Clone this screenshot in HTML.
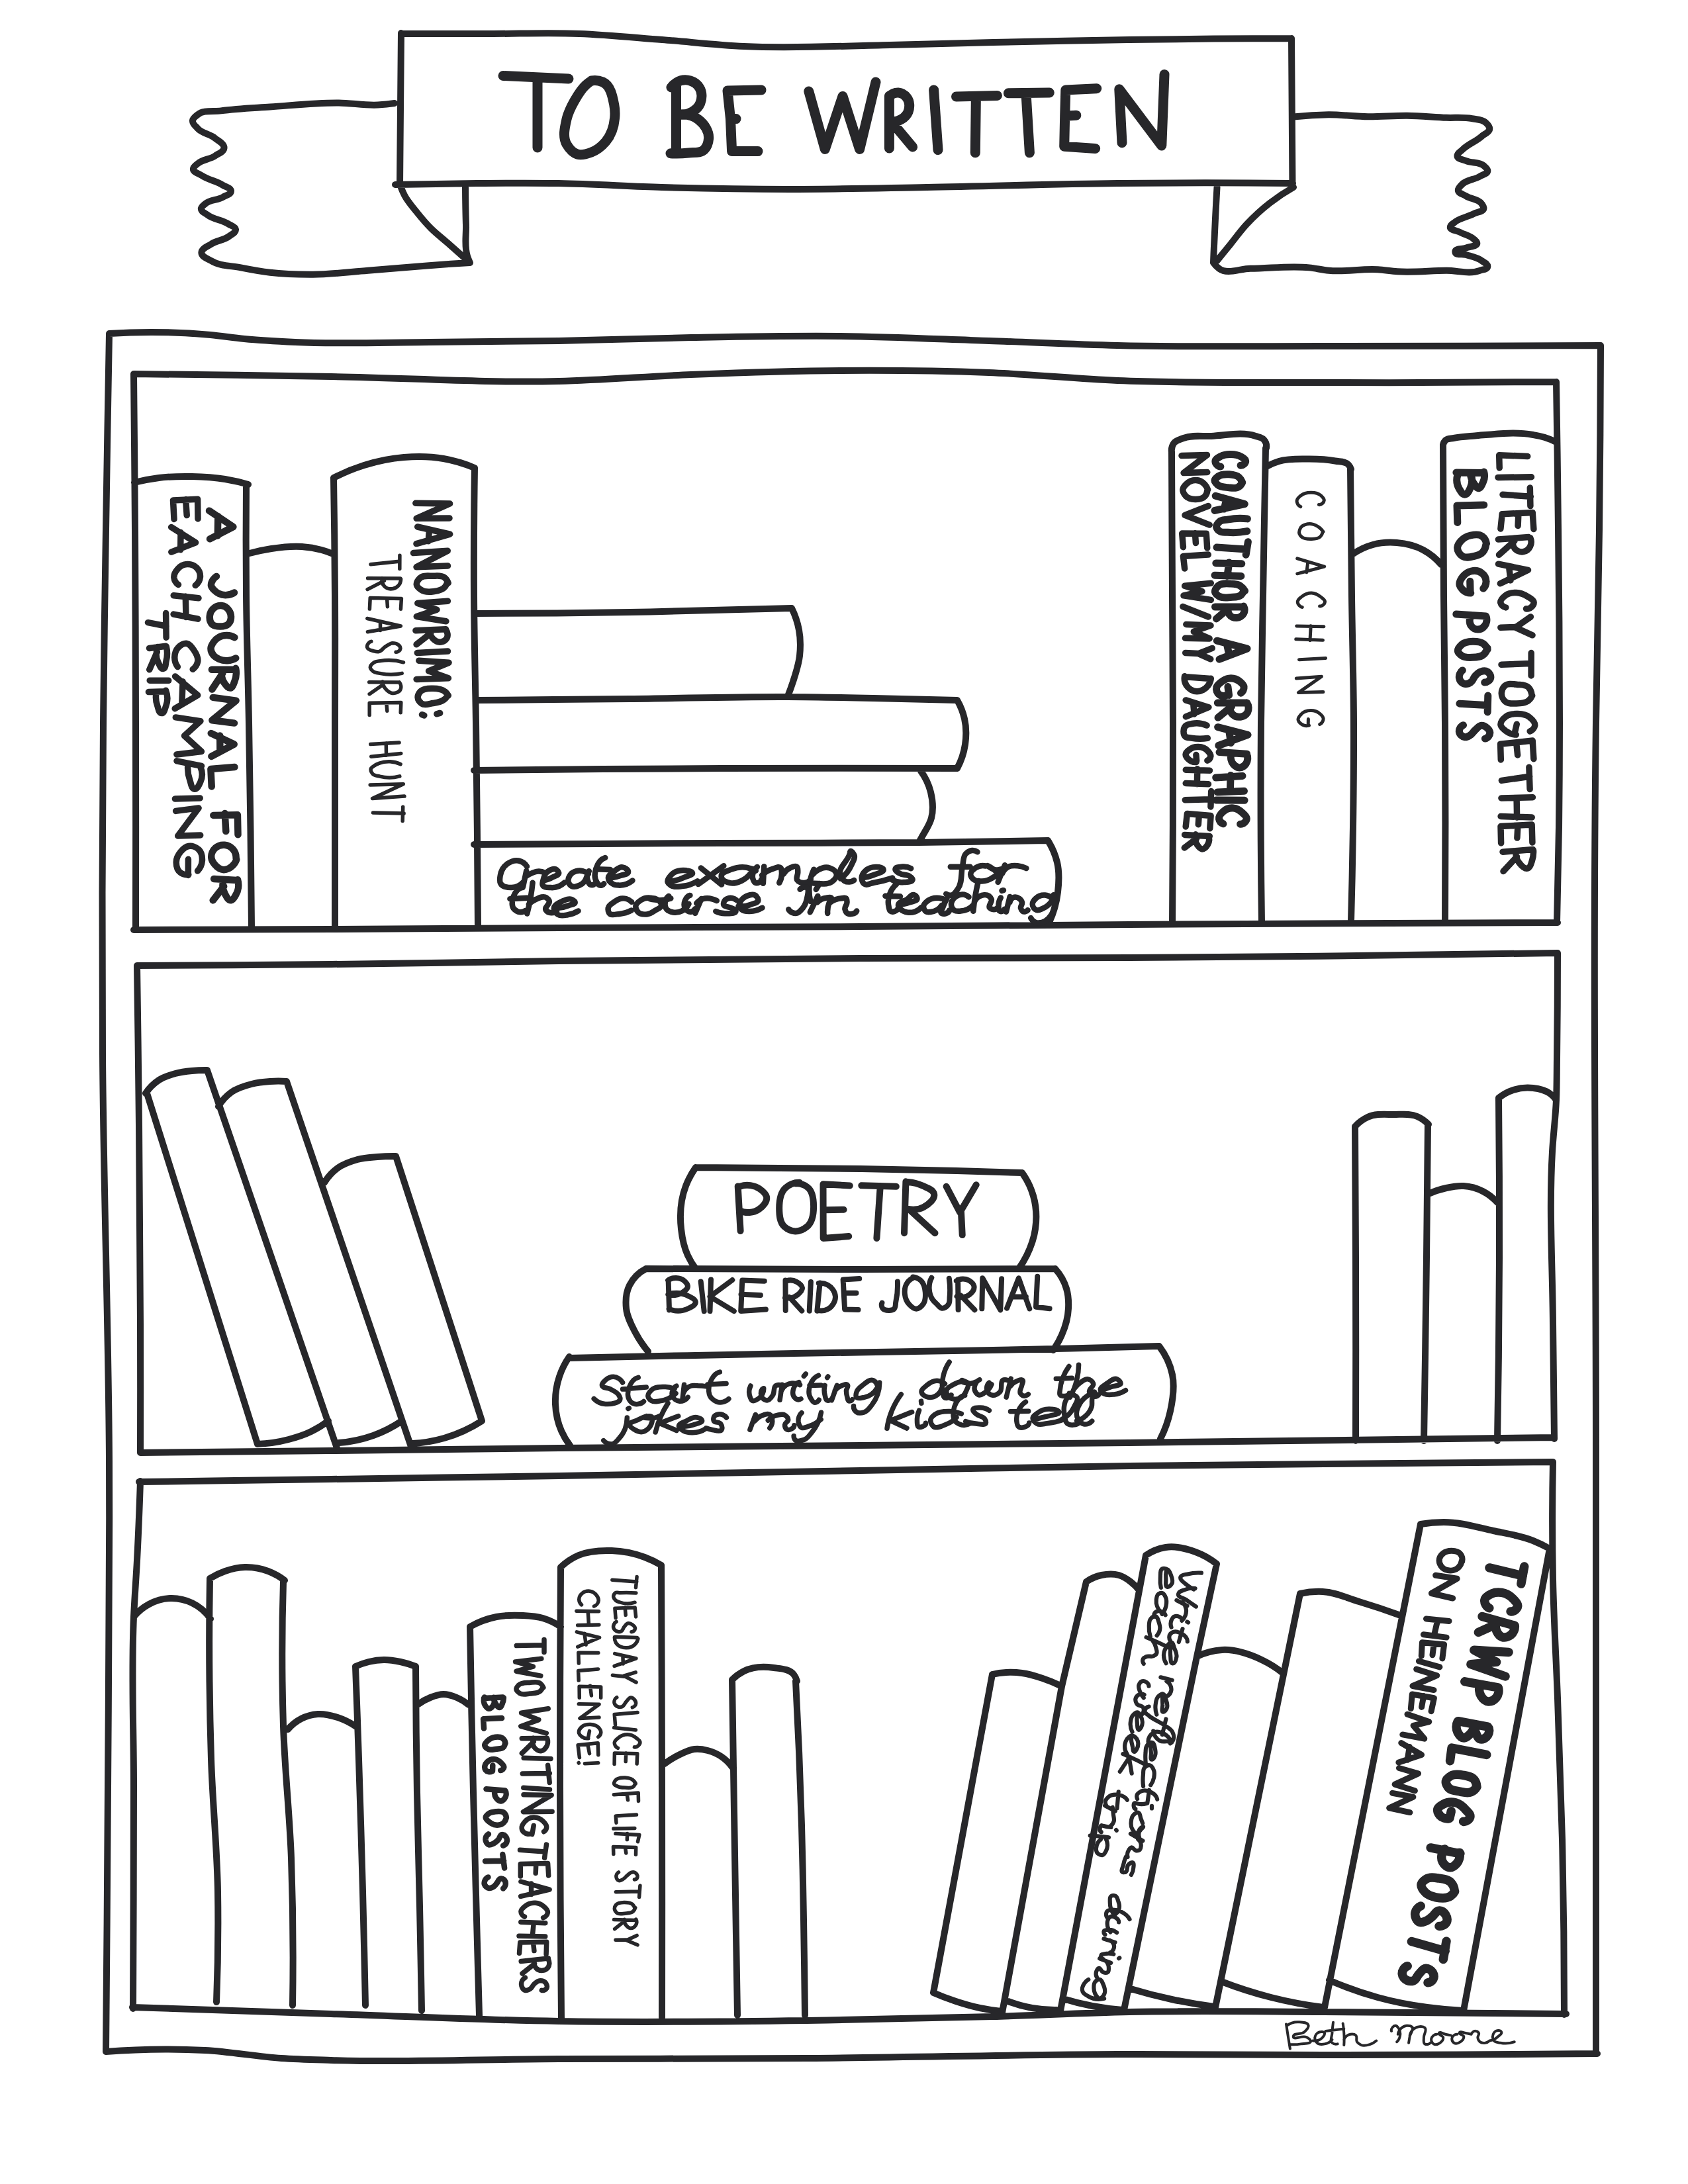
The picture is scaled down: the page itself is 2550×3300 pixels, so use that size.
<!DOCTYPE html>
<html><head><meta charset="utf-8"><title>To Be Written</title>
<style>
html,body{margin:0;padding:0;background:#fff;}
body{width:2550px;height:3300px;overflow:hidden;font-family:"Liberation Sans",sans-serif;}
svg{display:block;}
</style></head><body>
<svg width="2550" height="3300" viewBox="0 0 2550 3300">
<rect width="2550" height="3300" fill="#fff"/>
<g fill="none" stroke="#27272a" stroke-width="10" stroke-linecap="round" stroke-linejoin="round">
<path d="M606 51C650.7 51 695.3 51 740 51C785 51 830 49.3 875 51C916.7 52.6 958.3 56.8 1000 60C1041.3 63.2 1082.6 68 1124 70C1197.3 73.5 1270.7 69.4 1344 68C1396 67 1448 65.2 1500 64C1568.7 62.4 1637.3 61 1706 60C1787.7 58.8 1869.3 58.2 1951 58M606 50L604 279M1951 58L1952.5 283M597 279C638 278 679 277.3 720 277C761.3 276.7 802.7 276.3 844 277C896 277.9 948 281.5 1000 283C1064.6 284.8 1129.3 285.9 1194 286C1262.7 286.1 1331.3 284.2 1400 283C1496 281.4 1592 278 1688 277C1776.3 276.1 1864.7 276.1 1953 277M605 281C606.7 285.8 608.7 290.5 611 295C615.9 304.5 623.3 312.6 630 321C636.6 329.3 643.5 337.5 651 345C658.5 352.5 667 359 675 366C686.7 376.3 698.4 386.6 710 397M703 283C703.1 302 703.4 321 704 340C704.5 355.7 701.1 372.1 706 387C707.1 390.4 708.5 393.8 710 397M596 156C587.7 157.2 579.4 158 571 158.5C551.3 159.6 531.7 155.7 512 155.5C477.3 155.1 442.6 159.1 408 161.5C383.3 163.2 358.5 164 334 167.4C322.1 169 307.7 165.6 298.5 173.3C295.6 175.8 291.6 178.2 291 182C290.3 186.7 295.4 190.4 298.5 194C305.2 201.7 317.3 202.4 325 209C330.1 213.3 339.2 217.1 338.5 223.7C337.8 229.6 329.9 232.1 325 235.5C317 241 305.6 240.8 298.5 247.4C296.1 249.6 292.5 251.6 292 254.8C291.1 260.1 300 261.9 304.4 265C314.2 271.8 327 273.5 337 280C341.2 282.7 349 283.8 349 288.8C349 293.8 341.3 295.1 337 297.7C328.8 302.7 317 301.4 310 308C307.6 310.2 304 312.3 303.8 315.5C303.5 319.8 309.7 321.7 313 324.4C322.4 331.9 336 332.3 346 339C349.5 341.3 355.4 342.5 356 346.6C356.7 351.4 349.7 354 346 357C338.3 363.2 327.1 363.2 319 368.8C313.6 372.5 304.1 375.4 304.4 382C304.7 388.3 313.6 390.7 319 394C332 402.1 348.7 401.4 363.7 404.4C378.4 407.3 393.1 410.1 408 411.8C429.5 414.3 451.3 414.8 473 414.7C500.7 414.5 528.3 410.9 556 408.8C585.7 406.5 615.3 403.6 645 401.4C666.7 399.8 688.3 398.3 710 397M1954 283C1941.6 290 1929.7 297.9 1918.5 306.6C1905.8 316.4 1893.9 327.4 1883 339.2C1874.4 348.5 1867 358.9 1859 368.8C1852.2 377.2 1845.3 385.6 1838.5 394M1838.5 283C1837.6 298.7 1836.8 314.3 1836 330C1835.3 344 1834.6 358 1834 372C1833.6 380.3 1833.3 388.7 1833 397M1957 176.3C1973.6 174.5 1990.3 173.5 2007 173.3C2026.9 173.1 2046.7 176.1 2066.6 176.3C2086.3 176.5 2106.1 174.6 2125.8 174.8C2145.6 175 2165.3 177 2185 177.8C2197.9 178.3 2211 176.7 2223.6 179.2C2230.6 180.6 2239.1 180.3 2244.3 185.2C2246.9 187.6 2249.9 190.5 2250.2 194C2250.7 199.6 2242.6 202.2 2238.4 205.9C2229.5 214 2217.1 217.9 2208.8 226.6C2206.1 229.4 2201.3 231.6 2201.4 235.5C2201.5 240.6 2210.1 240.9 2214.7 243C2223.1 246.8 2234.6 244.1 2241.4 250.3C2243.7 252.4 2247 254.6 2247.3 257.7C2247.8 262.6 2239.6 263.9 2235.4 266.6C2227.2 271.8 2215.4 271.3 2208.8 278.5C2206.4 281.1 2202.7 283.8 2202.8 287.4C2202.9 292.3 2210.6 293.5 2214.7 296.2C2222.1 301 2233.5 300.7 2238.4 308C2239.6 309.9 2241.2 311.8 2241.4 314C2242 319.8 2231.6 320.1 2226.5 322.9C2217 328.1 2205.2 329.2 2197 336.2C2194.9 338 2191.8 339.5 2191 342.2C2189.4 347.7 2200.8 348.2 2205.8 351C2212.6 354.7 2220.9 356.1 2226.5 361.4C2228.1 362.9 2230.2 364.3 2231 366.4C2233.1 372.1 2220.3 372.3 2214.7 374.7C2209.4 377 2197.9 374.9 2198.4 380.7C2198.9 386.3 2209.3 383.3 2214.7 385C2222.8 387.5 2231.7 388.9 2238.4 394C2241.7 396.5 2247.8 398.7 2247.3 402.9C2246.7 407.3 2239.5 407.2 2235.4 408.8C2219.7 414.8 2201.8 408.7 2185 408.8C2160.3 409 2135.6 411.9 2111 410.3C2101.1 409.6 2091.3 408 2081.4 407.3C2056.7 405.7 2031.9 411.3 2007.3 408.8C1997.4 407.8 1987.6 405.5 1977.7 404.4C1948.3 401.3 1918.5 405.6 1888.9 405.8C1873.1 405.9 1854.1 415.3 1841.5 405.8C1838.2 403.3 1835.3 400.3 1833 397M165 504C215.9 500.7 267.2 501.4 318 506C335 507.6 352 510.4 369 512C394.6 514.5 420.3 515.8 446 517C513.6 520.2 581.3 517.4 649 517C714 516.7 779 516.1 844 515C910.7 513.8 977.3 511.2 1044 510C1119 508.7 1194 507.2 1269 508C1344 508.8 1419 512.5 1494 515C1558.7 517.2 1623.3 520.5 1688 522C1792 524.4 1896 522.9 2000 523C2139.3 523.1 2278.7 522.8 2418 522M165 504C163.2 602.7 161.5 701.3 160 800C158.5 897.3 156.9 994.7 156 1092C154.4 1258.7 154 1425.3 155 1592C156.3 1797.4 164 2002.6 165 2208C165.8 2372 164 2536 163 2700C162.2 2833.3 161.2 2966.7 160 3100M2418 522C2417.8 614.7 2417.1 707.3 2416 800C2414.8 897.3 2412.3 994.7 2411 1092C2406.1 1456 2411 1820 2411 2184C2411 2490.3 2411 2796.7 2411 3103M160 3100C209.8 3096 260.1 3095.4 310 3098C348.5 3100 386.5 3107.5 425 3110C450 3111.6 475 3112.2 500 3113C614.6 3116.6 729.3 3111.5 844 3111C969 3110.5 1094 3110.9 1219 3110C1375.3 3108.9 1531.7 3104.5 1688 3104C1792 3103.7 1896 3105 2000 3105C2137.7 3105 2275.3 3104.3 2413 3103M202 565C301.3 566 400.7 567.3 500 569C614.7 570.9 729.3 578.8 844 576C910.7 574.4 977.3 568.6 1044 566C1119 563.1 1194 560.5 1269 560C1344 559.5 1419.1 560.1 1494 563C1558.7 565.5 1623.3 572.3 1688 575C1791.9 579.3 1896 577.6 2000 578C2117 578.4 2234 578.1 2351 577M202 565C202.8 643.3 203.5 721.7 204 800C204.6 897.3 204.8 994.7 205 1092C205.2 1196 205.2 1300 205 1404M2351 577C2352.2 651.3 2353.2 725.7 2354 800C2355 897.3 2356.2 994.7 2356 1092C2355.9 1144.7 2355.7 1197.3 2355 1250C2354.3 1298 2353.3 1346 2352 1394M202 1405C301.3 1404.8 400.7 1404.4 500 1404C614.7 1403.5 729.3 1402.6 844 1402C996 1401.2 1148 1400.9 1300 1400C1435.3 1399.2 1570.7 1397.9 1706 1397C1921.7 1395.6 2137.3 1394.6 2353 1394M207 1459C304.7 1458.7 402.3 1458 500 1457C614.7 1455.8 729.3 1453.4 844 1452C996 1450.2 1148 1448.8 1300 1448C1435.3 1447.3 1570.7 1447.8 1706 1447C1921.7 1445.8 2137.3 1443.4 2353 1440M207 1459C208.2 1539.3 209.2 1619.7 210 1700C211 1800 211.7 1900 212 2000C212.2 2065 212.2 2130 212 2195M2353 1440C2353 1493.3 2352.7 1546.7 2352 1600C2351.7 1620.7 2351.9 1641.3 2351 1662C2349.9 1688.1 2346.5 1714 2345 1740C2340 1826.5 2345.3 1913.3 2346 2000C2346.5 2058 2347.2 2116 2348 2174M212 2195C308 2194.1 404 2193.1 500 2192C614.7 2190.7 729.3 2189.2 844 2188C996 2186.4 1148 2185.4 1300 2184C1435.3 2182.7 1570.7 2181.5 1706 2180C1920 2177.7 2134 2175 2348 2172M210 2239C306.7 2237.7 403.3 2236.4 500 2235C614.7 2233.4 729.3 2231.8 844 2230C996 2227.6 1148 2224.6 1300 2222C1435.3 2219.6 1570.7 2216.8 1706 2215C1804 2213.7 1902 2212.9 2000 2212C2115.3 2210.9 2230.7 2209.9 2346 2209M212 2238C210.7 2278 209.1 2318 207 2358C205.5 2386.3 203.3 2414.6 202 2443C198.2 2528.6 202.1 2614.3 202 2700C201.9 2811.7 201.5 2923.3 201 3035M2346 2209C2344.8 2268.3 2344.8 2327.7 2346 2387C2347.2 2446.7 2350.8 2506.3 2353 2566C2355.6 2637.3 2358.3 2708.6 2360 2780C2362 2868 2363 2956 2363 3044M200 3033C300 3036.4 400 3039.7 500 3043C614.7 3046.7 729.3 3052.2 844 3054C969 3055.9 1094 3054.7 1219 3053C1312.7 3051.7 1406.4 3049.7 1500 3047C1568.7 3045 1637.3 3041.4 1706 3040C1804 3038 1902 3039.6 2000 3040C2122 3040.4 2244 3041.4 2366 3043M203 729C215.2 725.9 227.5 723.6 240 722C256.6 719.9 273.3 719.7 290 720C306.7 720.3 323.5 721.3 340 724C351.8 726 363.5 728.6 375 732M372 732C371.5 788 371.5 844 372 900C372.6 964 374.9 1028 376 1092C377.8 1194.7 379.2 1297.3 380 1400M377 836C387.8 833 398.9 830.7 410 829C425.2 826.7 440.7 824.9 456 826C466.1 826.7 476.2 828.3 486 831C491.8 832.6 497.5 834.6 503 837M504 722C518.7 714.4 534.2 708 550 703C569.5 696.9 589.7 692.6 610 691C629.9 689.4 650.3 689.5 670 693C686.1 695.8 702 700.6 717 707M504 722C505 781.3 505.7 840.7 506 900C506.4 964 506 1028 506 1092C506 1194.7 506 1297.3 506 1400M717 707C716 771.3 715.7 835.7 716 900C716.3 964 718.1 1028 719 1092C720.4 1194.7 721.4 1297.3 722 1400M719 927C796.3 926.9 873.7 926.3 951 925C1032.7 923.7 1114.4 921.7 1196 919M1196 919C1201.2 929.4 1204.9 940.6 1207 952C1209.4 964.8 1209.4 978.1 1208 991C1206.5 1004.3 1202.1 1017.2 1198 1030C1195.6 1037.4 1192.9 1044.8 1190 1052M719 1058C796.3 1057.5 873.7 1056.8 951 1056C1030.7 1055.2 1110.3 1052.6 1190 1053C1233.3 1053.2 1276.7 1054.1 1320 1055C1362 1055.8 1404 1056.8 1446 1058M1446 1058C1451 1066.7 1454.8 1076.2 1457 1086C1459.9 1098.7 1459.9 1112.1 1458 1125C1456.1 1137.5 1452 1149.9 1446 1161M716 1164C840.7 1162.5 965.3 1161.5 1090 1161C1208.7 1160.5 1327.3 1160.5 1446 1161M1391 1165C1398 1174.5 1403.2 1185.6 1406 1197C1409.1 1209.6 1410.2 1223.4 1407 1236C1404.5 1246.1 1398 1254.8 1393 1264C1391.4 1267 1389.7 1270 1388 1273M716 1276C840.7 1275.2 965.3 1274.5 1090 1274C1189.3 1273.6 1288.7 1274.1 1388 1273C1453 1272.3 1518 1271.3 1583 1270M1583 1270C1589.4 1280.1 1594.2 1291.4 1597 1303C1600.5 1317.6 1599.8 1333.1 1598 1348C1596.1 1363.8 1591.6 1379.5 1585 1394M1770 683C1769.4 678.6 1770.5 673.7 1773 670C1776.2 665.3 1782.7 664.1 1788 662C1801.1 656.9 1816 659.6 1830 659C1852.3 658 1875.9 651.7 1897 659C1901.1 660.4 1906.1 660.8 1909 664C1912.1 667.3 1913.7 672.5 1913 677M1770 683C1770.3 755.3 1770.6 827.7 1771 900C1771.3 964 1771.9 1028 1772 1092C1772.2 1193.3 1771.9 1294.7 1771 1396M1912 677C1910.6 751.3 1909.2 825.7 1908 900C1906.9 964 1905.5 1028 1905 1092C1904.2 1192.7 1904.5 1293.3 1906 1394M1915 704C1920.4 701.2 1926.1 698.8 1932 697C1945.7 692.8 1960.6 693.6 1975 693.5C1989 693.4 2003.3 693.7 2017 696.5C2023.8 697.9 2032.4 696.9 2037 702C2038.8 704 2040.2 706.4 2041 709M2040 708C2040.5 772 2041.2 836 2042 900C2042.8 964 2044.8 1028 2045 1092C2045.2 1144.7 2044.7 1197.3 2044 1250C2043.3 1297.3 2042.3 1344.7 2041 1392M2044 837C2053.1 830.7 2063.4 825.9 2074 823C2085.6 819.8 2098 819 2110 820C2123.8 821.1 2137.8 824.4 2150 831C2160.2 836.5 2169.5 844.1 2177 853M2180 672C2180.5 669.4 2182 666.8 2184 665C2187.1 662.2 2192 662.8 2196 662C2206.5 659.8 2217.3 659.4 2228 658.5C2257.2 656 2287.1 651.9 2316 657C2321.7 658 2327.5 659 2333 660.7C2339.2 662.6 2345.2 665 2351 668M2180 672C2180.1 748 2180.4 824 2181 900C2181.5 964 2182.6 1028 2183 1092C2183.6 1192.7 2183.6 1293.3 2183 1394M220 1652C225.2 1644.1 232.1 1637.2 240 1632C247.5 1627.1 256.3 1624.4 265 1622C273.1 1619.8 281.6 1618.8 290 1618C297.6 1617.2 305.3 1616.9 313 1617M222 1652L389 2182M313 1617L509 2188M389 2182C404.8 2181.4 420.7 2179 436 2175C447.6 2171.9 459.2 2168.3 470 2163C479.1 2158.5 487.9 2153.2 496 2147M330 1672C334.9 1663.4 341.9 1655.7 350 1650C358.8 1643.8 369.6 1640.7 380 1638C389.1 1635.6 398.6 1634.6 408 1634C416.3 1633.4 424.7 1633.4 433 1634M433 1634L621 2186M512 2180C529.7 2178.8 547.3 2175 564 2169C579.1 2163.5 593.7 2156.1 607 2147M490 1787C495.1 1778.5 502 1770.8 510 1765C518.8 1758.6 529.5 1754.9 540 1752C549.7 1749.4 559.9 1748.8 570 1748C579.3 1747.2 588.7 1746.9 598 1747M598 1747L728 2147M623 2181C639.2 2180.2 655.4 2177.5 671 2173C691.1 2167.2 710.5 2158.4 728 2147M1051 1764C1134 1764 1217 1764.6 1300 1766C1381.3 1767.3 1462.7 1769.3 1544 1772M1051 1764C1044.9 1772.6 1039.8 1782.1 1036 1792C1028.2 1812.3 1026.6 1835.3 1029 1857C1030.5 1870.7 1033.2 1884.5 1039 1897C1042.3 1904.1 1046.3 1910.8 1051 1917M1544 1772C1551.6 1782.5 1557.4 1794.5 1561 1807C1565.6 1823 1566.4 1840.5 1564 1857C1562 1870.9 1557.2 1884.4 1551 1897C1547.5 1904 1543.5 1910.7 1539 1917M976 1917C1084 1917.7 1192 1918 1300 1918C1398 1918 1496 1917.6 1594 1917M976 1917C965.5 1922.3 956.3 1931.5 951 1942C945.7 1952.5 944.8 1965.3 946 1977C947.2 1989.4 953.3 2000.9 959 2012C964.5 2022.7 971.2 2032.8 979 2042M1594 1917C1601.7 1925.5 1607.7 1936 1611 1947C1613.9 1956.6 1614.5 1967 1614 1977C1613.4 1990.7 1609.5 2004.4 1604 2017C1600.5 2025.1 1596.1 2032.8 1591 2040M859 2052C972.7 2049.4 1086.3 2047.1 1200 2045C1300 2043.2 1400 2042.1 1500 2040C1583.7 2038.3 1667.3 2036.3 1751 2034M860 2050C853.6 2059.2 848.5 2069.4 845 2080C840.5 2093.4 838.4 2107.9 839 2122C839.6 2135.7 842.5 2149.5 848 2162C851.4 2169.8 855.8 2177.2 861 2184M1751 2034C1760.7 2046.5 1767.7 2061.5 1771 2077C1774.8 2095 1771.9 2114.1 1768 2132C1764.8 2146.5 1759.8 2160.8 1753 2174M2047 1702C2052.3 1696.2 2058.9 1691.3 2066 1688C2078.1 1682.3 2092.6 1684 2106 1684C2117.7 1684 2130.3 1682.2 2141 1687C2147.3 1689.8 2153.2 1694 2158 1699M2047 1702C2047.5 1768 2047.8 1834 2048 1900C2048.3 1992.3 2048.3 2084.7 2048 2177M2157 1699C2156.5 1766 2155.8 1833 2155 1900C2153.9 1992.3 2152.6 2084.7 2151 2177M2158 1804C2166.6 1800 2175.7 1797 2185 1795C2193.5 1793.1 2202.3 1791.4 2211 1792C2221 1792.6 2231.1 1795.4 2240 1800C2248.3 1804.2 2255.8 1810.1 2262 1817M2264 1659C2270.5 1653.7 2278.1 1649.6 2286 1647C2295.5 1643.9 2306 1642.8 2316 1644C2324.7 1645 2333.9 1646.9 2341 1652C2344.8 1654.7 2348.3 1658.2 2351 1662M2264 1659C2264.9 1739.3 2265.2 1819.7 2265 1900C2264.7 1992.3 2263.7 2084.7 2262 2177M202 2443C208.3 2435.3 216.2 2428.7 225 2424C234.8 2418.7 245.9 2415.4 257 2415C268.2 2414.6 279.9 2417.1 290 2422C301.1 2427.3 311 2435.9 318 2446M317 2385C324.2 2380.5 332 2376.8 340 2374C349.6 2370.7 359.8 2368.3 370 2368C381.8 2367.7 393.9 2369.8 405 2374C413.9 2377.4 422.5 2382.1 430 2388M317 2385C315.4 2476 316.1 2567 319 2658C321.1 2724.7 327.9 2791.3 329 2858C329.9 2913.7 329.2 2969.4 327 3025M428 2390C425.7 2462.6 425.7 2535.4 428 2608C430.1 2674.8 437.6 2741.3 440 2808C442.6 2882 443.3 2956 442 3030M435 2613C440.5 2606.5 447.4 2600.9 455 2597C462.7 2593 471.4 2590.6 480 2590C490.1 2589.3 500.4 2591.9 510 2595C519.9 2598.2 529.5 2603 538 2609M537 2518C543.4 2515 550.1 2512.7 557 2511C564.5 2509.2 572.3 2508.1 580 2508C588.4 2507.9 596.8 2509.3 605 2511C612.8 2512.7 620.6 2515 628 2518M537 2518C538.8 2564.7 540.4 2611.3 542 2658C544.2 2724.7 546.2 2791.3 548 2858C549.5 2915.3 550.8 2972.7 552 3030M628 2518C628.2 2581.3 628.9 2644.7 630 2708C631 2765.3 632.8 2822.7 634 2880C635.1 2932.7 636.1 2985.3 637 3038M632 2575C637.5 2570.9 643.6 2567.5 650 2565C656.4 2562.5 663.1 2560 670 2560C676.9 2560 683.7 2562.4 690 2565C696.5 2567.7 702.6 2571.5 708 2576M710 2458C722.4 2450.9 736 2445.8 750 2443C763.1 2440.4 776.7 2440.3 790 2441C800.1 2441.5 810.3 2442.1 820 2445C829.6 2447.9 838.8 2452.3 847 2458M710 2458C711.4 2541.3 713 2624.7 715 2708C716.5 2772 718.3 2836 720 2900C721.3 2948.3 722.6 2996.7 724 3045M847 2368C854.8 2360.5 864.1 2354.3 874 2350C889.4 2343.2 907.2 2342.5 924 2343C941 2343.5 958.1 2347 974 2353C982.7 2356.3 991.1 2360.3 999 2365M847 2368C846.2 2478.7 845.9 2589.3 846 2700C846.1 2816.7 846.8 2933.3 848 3050M999 2365C999.5 2476.7 999.8 2588.3 1000 2700C1000.2 2816 1000.2 2932 1000 3048M1004 2665C1010.6 2660 1017.6 2655.6 1025 2652C1032.7 2648.2 1040.5 2643.9 1049 2643C1055.7 2642.3 1062.5 2643.3 1069 2645C1083.4 2648.7 1097.2 2658 1106 2670M1106 2538C1111.2 2532.7 1117.4 2528.3 1124 2525C1137.5 2518.3 1154.1 2517.8 1169 2520C1179.4 2521.5 1192.5 2521.7 1199 2530C1201.3 2532.9 1203 2536.4 1204 2540M1106 2538C1107.3 2625.3 1108.6 2712.7 1110 2800C1111.3 2881.7 1112.6 2963.3 1114 3045M1202 2540C1205.9 2612.6 1208.9 2685.3 1211 2758C1212.4 2805.3 1213.2 2852.7 1214 2900C1214.8 2948.3 1215.5 2996.7 1216 3045M1499 2530C1505.9 2528.4 1512.9 2527.4 1520 2527C1528 2526.6 1536.1 2526.9 1544 2528C1554.6 2529.4 1564.9 2532.6 1575 2536C1584.9 2539.3 1594.6 2543.3 1604 2548M1499 2530L1410 3011M1410 3011C1421.1 3015.9 1432.5 3020.2 1444 3024C1455.8 3027.9 1467.8 3031.4 1480 3034C1490.6 3036.2 1501.3 3037.9 1512 3039M1641 2390C1647.8 2385.2 1655.8 2381.7 1664 2380C1672.5 2378.2 1681.7 2377.6 1690 2380C1696.6 2381.9 1702.6 2385.8 1708 2390C1712.9 2393.7 1717.3 2398.1 1721 2403M1641 2390L1604 2548L1514 3041M1523 3024C1534.6 3028.5 1546.7 3031.8 1559 3034C1571.2 3036.2 1583.6 3037.2 1596 3037M1731 2350C1739.9 2343.9 1750.4 2339.7 1761 2338C1776 2335.6 1791.8 2339.8 1806 2345C1817.5 2349.2 1828.4 2355.4 1838 2363M1731 2350L1602 3038M1606 3020C1620.4 3024.5 1635.1 3028.2 1650 3031C1665.2 3033.9 1680.6 3035.9 1696 3037M1838 2363L1808 2503L1698 3037M1808 2503C1819.8 2497.3 1832.9 2493.8 1846 2493C1866.6 2491.7 1887.3 2499.2 1906 2508C1917.4 2513.4 1928.2 2520.1 1938 2528M1708 3005C1728.4 3011.2 1749.1 3016.5 1770 3021C1791.2 3025.5 1812.5 3029.2 1834 3032M1964 2408C1975.1 2405.5 1986.6 2404.5 1998 2405C2017 2405.8 2034.8 2414.5 2053 2420C2074.2 2426.4 2095.2 2433.4 2116 2441M1964 2408L1836 3033M1845 2994C1869.5 3003.5 1894.6 3011.5 1920 3018C1946 3024.6 1972.4 3029.6 1999 3033M2146 2303C2157.5 2301.1 2169.3 2300.1 2181 2300C2206.4 2299.9 2231.2 2307.7 2256 2313C2276.2 2317.3 2296.9 2320.3 2316 2328C2324.6 2331.5 2332.9 2335.5 2341 2340M2146 2303L2001 3033M2341 2340L2211 3038M2008 2992C2031.6 3002.4 2056.1 3011.1 2081 3018C2105.6 3024.8 2130.7 3029.6 2156 3033C2174.2 3035.5 2192.6 3037.2 2211 3038"/>
</g>
<path d="M760 114.5L859 119M812 119L812 223M893.5 122C899.1 121 905.3 121.7 910.6 124C922.2 129.1 925.3 145.5 927.7 158C929 164.6 929.3 171.4 928.7 178C927.5 190.8 923.3 204.2 915 214C909.2 220.8 901.9 226.8 893.5 230C886.7 232.6 878.9 235.2 872 233C865 230.8 859.7 224.3 856 218C849.7 207 853.2 192.3 856 180C858.3 170.1 863 160.8 868 152C872.8 143.6 877.8 135 885 128.5C887.7 126.1 890.5 123.9 893.5 122M1021.5 130L1021.5 226M1014 132C1016 129.2 1018.6 126.8 1021.5 125C1027.6 121.2 1035.9 119.9 1042.8 122C1048.4 123.7 1053.7 127.6 1056.7 132.6C1060.8 139.3 1060.8 148.8 1057.8 156C1053.5 166.6 1039.3 174.7 1028 173M1028 173C1037.5 172.1 1048 175.1 1055.6 181C1064.1 187.6 1071.4 198.7 1070.6 209.4C1070.1 215.3 1068.2 221.8 1064 226C1058.2 231.8 1048.1 230 1040 231C1031.1 232.1 1022 232.4 1013 231.8M1150 136L1099 137L1103.5 179.6L1105.6 228.6L1145 228.6M1103.5 179.6L1112 179.6M1221.8 138L1246.3 225.4L1273 145.4L1298.6 225.4L1323 124M1343.4 145L1343.4 224M1343.4 146C1346.6 142.1 1352.2 139.7 1357.2 140C1362.2 140.3 1367 143.7 1370 147.6C1374.4 153.3 1374.6 162.3 1372 169C1368.4 178.1 1356.3 185.2 1346.6 183.8M1346.6 183.8L1378.6 222M1410.6 136L1417 226.5M1444.5 146L1506.4 144.4M1474.4 145.4L1473.3 230.8M1523.4 140.8L1585.3 140.1M1550 141.2L1555.4 230.8M1656.7 133.7L1609.8 135.9L1608.7 175.3L1607.7 221.2L1654.6 224.4M1608.7 175.3L1625.8 174.2M1695 215.8L1690.8 134.8L1754.8 220L1759 112.4" fill="none" stroke="#27272a" stroke-width="15" stroke-linecap="round" stroke-linejoin="round"/>
<path d="M316 771.7L352.4 796L317 814.3M329.3 779.9L328.8 809.6" fill="none" stroke="#27272a" stroke-width="10.5" stroke-linecap="round" stroke-linejoin="round"/>
<path d="M353.9 895.5C347.5 899.7 337.9 900.3 330.9 897.1C328.2 895.8 325.8 894 323.7 891.9C321.8 889.9 319.5 887.7 319 885C318.5 881.9 320.1 878.7 321.7 876.1C323.1 874.1 324.9 872.2 326.9 870.9M349 931.7C348.9 928.2 347.7 924.6 345.6 921.8C343 918.3 338.7 915.5 334.3 915.1C329.8 914.7 324.9 916.8 321.8 920C319.1 922.6 317.4 926.4 316.9 930.1C316.3 934.8 317.4 940.6 320.9 943.7C324 946.3 328.7 946.5 332.7 946.5C336.8 946.4 341.5 946 344.5 943.3C347.7 940.4 349.4 935.4 348.8 931.1M354.4 963.2C347.7 959.3 338 959 331.1 962.7C327.9 964.4 325 967 322.8 970C320.8 972.8 318.7 976 318.5 979.5C318.3 983.2 320.1 987 322.4 990C324.6 992.7 327.9 994.6 331.1 996C338.8 999.4 349 998.8 356.2 994.5M319.9 1011.8L355.8 1011.5M356.1 1009.8C357.6 1016.6 356.8 1024.2 354 1030.6C352.6 1033.8 351.7 1038.8 348.3 1039.5C344.6 1040.2 341.7 1035.7 339.4 1032.8C335 1027.3 333.6 1018.6 335.9 1012M336.4 1017.2L320.4 1041.5M321.7 1053.9L356.6 1058.6L320.4 1088.3L354 1092.6M318.8 1108.1L353.7 1124.6L319.4 1142.9M332.2 1111.4L332.4 1135.6M354.4 1159.1L318.4 1162.1L319.7 1188.4" fill="none" stroke="#27272a" stroke-width="10.5" stroke-linecap="round" stroke-linejoin="round"/>
<path d="M359.5 1261.2L358.9 1231.3L322.3 1232M339.7 1229L341.3 1256.1M356.6 1296.8C356.9 1291.9 355 1286.7 351.8 1283C348.7 1279.6 344 1277.2 339.4 1276.8C334.6 1276.3 329.2 1277.9 325.6 1281C321.4 1284.5 318.7 1290.7 319.3 1296.1C319.7 1299.8 321.9 1303.2 324.2 1306.1C327.6 1310.2 332.6 1314 337.9 1314.2C342.9 1314.4 347.9 1311.5 351.4 1308.1C354.1 1305.5 356.2 1302.2 357.3 1298.7M323.1 1328L357.6 1330M359 1329.2C361.4 1336.8 360.1 1346.1 355.9 1352.8C354 1355.7 352.3 1359.8 348.9 1360.3C344.6 1360.9 342 1354.5 339.9 1350.7C336.4 1344.4 335.6 1336.1 337.9 1329.3M338.2 1339.3L321.7 1360.4" fill="none" stroke="#27272a" stroke-width="10.5" stroke-linecap="round" stroke-linejoin="round"/>
<path d="M299 783.9L298.6 754.2L261.5 756L263 784.4M280.6 754.8L282.2 778.6M258.7 796.6L295.6 819.8L258.8 834.1M273 804.5L272.7 830.8M295.2 884.6C299.1 881.8 301.9 876.9 302.4 872.1C302.8 867.1 300.7 861.4 297.1 857.8C293.4 854.2 287.7 852.3 282.6 852.6C277.1 852.8 271.5 856 268 860.2C265.1 863.6 262.5 868.3 262.9 872.7C263.4 876.9 266 881.2 269.5 883.5M262.2 899.8L300 903.8M262.1 928.1L299 935.2M280.3 901.2L281 932.5" fill="none" stroke="#27272a" stroke-width="9.5" stroke-linecap="round" stroke-linejoin="round"/>
<path d="M291.2 1011.3C294.9 1008.7 297.6 1004.5 298.6 1000.2C299.9 994.3 296.6 987.8 293.2 982.8C290.2 978.4 286.6 972.7 281.4 972.2C276.8 971.9 272.3 975 269.1 978.4C265.6 982.1 264 987.7 263.8 992.8C263.6 998 265.3 1003.4 268.3 1007.6M264.6 1022L298.7 1050.5L264.2 1070.7M276.1 1029.8L274.8 1063.9M265.3 1083.9L302.9 1089.6L278.5 1111.7L304.4 1135.5L266.9 1140M267 1149.8L304.5 1157.3M303.2 1159.9C306 1166.6 305.8 1175 302.8 1181.6C300.8 1185.8 298.5 1192.4 293.9 1192.2C289 1192 288.6 1183.7 286.9 1179.1C284.3 1172 283.2 1164.2 283.8 1156.7M264.4 1207.1L302.2 1206M265.6 1225.4L300.1 1220.9L268.7 1263L302.7 1261.9M298.5 1316C302.4 1311.9 305 1306.1 305.4 1300.4C305.7 1294.7 304.5 1288 300.5 1283.9C296.6 1279.9 290.3 1277.6 284.9 1278.5C280.2 1279.3 276.2 1283.1 273.1 1286.8C269.4 1291.1 266.4 1296.6 266.3 1302.3C266.1 1308.1 267.9 1315.1 272.6 1318.5C276 1321 280.7 1322.1 284.8 1321.4M284.4 1298.3L284.3 1322.5" fill="none" stroke="#27272a" stroke-width="9.5" stroke-linecap="round" stroke-linejoin="round"/>
<path d="M250.6 926.5L251.1 963.3M251 946L223.5 940.7M225.5 979.5L250.5 976.3M251.3 976.8C252.9 983.9 252.9 991.5 251.1 998.5C250.1 1002.6 250.6 1010.1 246.4 1010.4C242.5 1010.7 240.8 1004.6 239.1 1001.1C235.6 994 235.2 984.7 238.2 977.4M237.3 985.2L225.7 1011.8M226.2 1028.2L254.7 1028.3M224.4 1045.5L250.2 1044.7M250.5 1043.2C253.4 1050.5 253.5 1059.4 250.7 1066.8C249.2 1070.7 248.3 1077.6 244.1 1077.6C239.9 1077.5 239.2 1070.5 237.8 1066.5C235.3 1059.8 234.8 1052.1 236.4 1045.2" fill="none" stroke="#27272a" stroke-width="9.5" stroke-linecap="round" stroke-linejoin="round"/>
<path d="M627.8 760.3L679.6 761L629.2 783.3L679 783M630.7 796L679.7 807.2L629 821.6M648.5 800.8L647.1 817.8M624.5 835.6L676.3 832.2L629.1 856.7L676.5 855M677.2 881C676.1 877.7 674 874.7 671.3 872.6C666.7 869 659.8 870.2 654 870.3C647.3 870.3 638.9 868.8 634.2 873.6C631.6 876.2 628.7 880 629.4 883.6C629.9 886.9 633.3 889.3 636 891.2C641.2 894.8 648.5 894.7 654.8 893.8C661.1 893 668.6 891.4 672.5 886.3C674.1 884.3 675.3 881.9 675.9 879.4M676.4 908.2L630.8 911.4L660 921.3L629.3 931.6L673.9 938.7M627.9 952.7L673.5 950.7M673.1 951.4C676.1 954.4 677.1 960.3 675.1 964.2C673.5 967.4 669.7 969.6 666.1 970.1C662 970.7 657.4 968.2 654.4 965.3C651.2 962.1 649.3 957.4 649.3 952.9M650.8 956.7L629.1 973.8M630.3 986.5L676.5 984M632.8 998.2L678.1 1001.3L647.6 1013.9L677.4 1024.7L629.1 1026.4M677.3 1050.8C676 1048.6 674.2 1046.5 672.1 1044.9C667 1040.7 659.5 1040.1 652.9 1040.2C646.7 1040.4 638.8 1040.3 634.8 1045.1C632.8 1047.5 631 1050.7 631.1 1053.8C631.3 1057.4 633.8 1060.8 636.7 1062.9C641.3 1066.3 648.3 1063.4 654 1062.5C659.6 1061.6 665.6 1061 670.1 1057.7C672.2 1056.2 674.1 1054.3 675.6 1052.2M659.9 1078.8L664.6 1077.4M637.5 1079.8L640.8 1080.9" fill="none" stroke="#27272a" stroke-width="9.5" stroke-linecap="round" stroke-linejoin="round"/>
<path d="M603.9 839.2L603.8 859.5M602.9 848.2L559.9 852.7M555.6 873.7L604.8 873.9M605.6 875.1C605.6 878.7 604.1 882.6 601.6 885.2C599.6 887.4 596.7 888.9 593.8 889.5C589.4 890.4 583.9 889.1 580.7 885.9C577.8 882.9 576.3 877.9 577.2 873.8M580.4 877.6L555.1 890.6M605.4 920.3L606.4 904.5L559.2 903.4L558.4 920.1M584.6 904.5L585.4 916.8M554.8 934.5L605.4 946L555.4 954.8M574.5 938.9L574.5 952.6M598 985.3C600.9 985.7 604.5 982.9 604.9 980.1C605.1 977.6 603 975.2 601 973.8C598.8 972.1 595.8 971.8 593.1 971.8C589 972 585.5 975.1 582 977.2C578.6 979.3 576.3 983.8 572.4 984.6C569.9 985 567.3 984.5 564.8 983.8C561 982.8 555.2 981.7 554.6 977.8C554.1 974.3 557.4 969.8 560.9 969.3M609.5 1000.8C598.4 997.4 586.1 996.6 574.6 998.6C571.3 999.1 567.6 999 564.9 1000.9C562.2 1002.8 558.8 1005.8 559.4 1009C559.7 1011.2 561.8 1012.9 563.6 1014.3C566.7 1016.8 571.3 1016.8 575.2 1017.6C585.6 1019.8 596.8 1019.7 607.2 1017.4M557.7 1030.7L603.2 1031M603.2 1030.9C605.6 1033.6 606.5 1038.2 605.1 1041.5C603.4 1045.8 597.2 1048 592.6 1047.4C589.1 1047 585.9 1044.5 583.4 1041.9C580.4 1038.7 578.3 1034.3 577.8 1030M578.6 1034.5L558.1 1048.7M605.2 1076.7L605.8 1061.6L558.2 1062.3L558.2 1080.4M583.8 1062.6L584.8 1074.2" fill="none" stroke="#27272a" stroke-width="5.5" stroke-linecap="round" stroke-linejoin="round"/>
<path d="M559.7 1124.5L603.1 1121.9M560.7 1143.2L605.8 1138.4M583.3 1122.9L583.5 1141.3M605.1 1154.8C595.5 1150 583.1 1149.4 573.2 1153.1C570.1 1154.2 567 1155.5 564.5 1157.6C562.9 1158.8 560.8 1159.9 560.2 1161.9C559.5 1164.4 561.2 1167.2 562.9 1169.2C565.3 1172.1 570 1172.2 573.7 1173.1C583.4 1175.6 594.1 1175.5 603.8 1172.9M559.2 1186L609.3 1184.7L562.6 1206.6L611 1203.1M608.7 1219.3L608.2 1240.5M610.1 1229.1L563.5 1228" fill="none" stroke="#27272a" stroke-width="5.5" stroke-linecap="round" stroke-linejoin="round"/>
<path d="M796 1309.2C793.3 1304.9 788.4 1301.5 783.4 1300.5C777.8 1299.3 771.5 1301.7 766.7 1305C760.7 1309.1 756.6 1316.5 755.6 1323.7C755 1327.4 754.4 1331.6 756.2 1334.9C759 1340.2 767 1341 773 1340.9C779.4 1340.7 786.2 1337.6 790.5 1332.8M795.2 1315.9L790.2 1339.4M793.3 1324.9C796.8 1322.3 800.8 1320.2 804.9 1318.6C806.7 1317.9 808.5 1317.2 810.5 1316.9C814.7 1316.2 819.4 1316.9 823.3 1318.8M820.4 1330.5C825.7 1329.7 830.9 1327.9 835.5 1325.2C838.7 1323.4 844.8 1322.1 844.1 1318.6C843.8 1316.8 842.4 1315.4 841 1314.3C837.1 1311.3 830.4 1314.5 826.5 1317.6C822.9 1320.5 821.4 1325.6 820.4 1330.2C819.9 1332.4 818.9 1334.9 819.7 1337.1C821.1 1341.2 827.7 1340.8 832 1341.1C839.4 1341.6 847.5 1338.6 852.7 1333.5M888.9 1320.5C886.5 1318.4 883.4 1316.8 880.2 1316.1C873.9 1314.7 865.4 1316.4 861.6 1321.7C859.5 1324.6 857.8 1328.7 858.6 1332.2C859.3 1334.9 861.1 1337.6 863.5 1338.9C867 1341 871.9 1339.3 875.5 1337.7C880.6 1335.3 884.9 1330.2 886.3 1324.7M889.8 1316.3C887 1320.3 886.2 1326.5 888.1 1331.1C888.9 1333.2 889.8 1335.8 891.9 1336.7C894 1337.5 896.9 1336.9 898.5 1335.3M914.2 1296C901.8 1300 894.3 1322.4 901.7 1333.1C902.8 1334.7 903.7 1336.9 905.6 1337.5C907.8 1338.2 911 1337.2 912.3 1335.2M900 1313.2L922.1 1314.1M925.4 1326C929.8 1325.4 934 1324.3 938.2 1322.8C941.9 1321.3 948.9 1321.4 949.1 1317.4C949.2 1313.6 943.9 1311 940.3 1310.4C935.7 1309.6 931.5 1313.7 927.8 1316.5C924.2 1319.2 918.8 1322.2 918.9 1326.7C919 1330.8 923.1 1334.4 926.8 1336.2C929.2 1337.4 932 1337.5 934.7 1337.6C942 1337.9 949.9 1335.2 955.5 1330.5" fill="none" stroke="#27272a" stroke-width="8.5" stroke-linecap="round" stroke-linejoin="round"/>
<path d="M1008.8 1332.2C1017.6 1331.7 1026.3 1329.4 1034.1 1325.5C1038.2 1323.5 1047.8 1322.3 1045.6 1318.3C1044.1 1315.7 1040 1315.9 1037 1315.3C1029.2 1314 1019.4 1315.9 1014.2 1321.8C1011.3 1325 1007.2 1329.5 1008.8 1333.4C1009.7 1335.5 1011.8 1336.9 1013.8 1338.2C1018.5 1341.1 1024.9 1339.6 1030.5 1339.1C1038.6 1338.3 1046.7 1335.5 1053.7 1331.3M1058.9 1311.5L1090.1 1336.6M1093.3 1308.3L1054.9 1336M1141.8 1315.7C1137.5 1313.2 1132.7 1311.5 1127.8 1310.7C1120.2 1309.4 1112 1310.7 1104.9 1313.6C1099.1 1316 1089.2 1318 1089.6 1324.2C1089.9 1329.8 1097.6 1332.9 1103 1334.2C1108.6 1335.5 1114.7 1333.3 1119.9 1331C1125.5 1328.4 1130.6 1324.3 1134.2 1319.3M1144 1309.9C1138.6 1313.3 1135.5 1321.9 1137.4 1328C1138.1 1330.1 1138.9 1332.7 1140.9 1333.8C1144 1335.4 1149.8 1332.4 1150.2 1328.9M1154.2 1309.2L1152.9 1334.8M1151.1 1322.5C1155.5 1318 1161.2 1314.6 1167.3 1312.9C1171.2 1311.7 1176.9 1308.3 1179.5 1311.5C1181 1313.3 1180.7 1316.1 1180.9 1318.4C1181.2 1323.7 1179.9 1329.4 1177.2 1334M1183.8 1320.6C1185.8 1316.7 1189.5 1313.3 1193.6 1311.5C1196.8 1310.1 1201.4 1307.5 1203.9 1309.9C1205.8 1311.7 1205.1 1315 1205.3 1317.6C1205.6 1321.6 1202 1326.3 1204.2 1329.7C1206.3 1333.1 1211.4 1334.4 1215.3 1334C1218.9 1333.7 1222.6 1331.6 1224.8 1328.7M1229.4 1313.7C1226 1320.9 1223.8 1328.8 1222.8 1336.7C1221.9 1345 1222.4 1353.7 1224.3 1361.8M1228.1 1321.2C1230.2 1318.6 1232.8 1316.3 1235.8 1314.6C1240.9 1311.6 1247.7 1309.5 1253.3 1311.5C1257.9 1313.1 1263.4 1316.6 1263.8 1321.4C1264.2 1325.9 1259.9 1329.9 1256.3 1332.6C1250.9 1336.6 1243 1335.3 1236.3 1335.1C1231.6 1335 1226.8 1334.4 1222.2 1333.3M1269.9 1327.6C1276.8 1322.5 1282.6 1315.2 1286.1 1307.2C1288.2 1302.2 1292.8 1296 1290 1291.3C1288.8 1289.2 1285.9 1284.5 1284.5 1286.5C1283.8 1287.3 1284 1288.5 1283.8 1289.6C1281.2 1301.3 1264.8 1311.7 1269.7 1322.7C1271.1 1325.9 1272.9 1329.5 1276 1331.2C1280.1 1333.5 1286.6 1332.9 1290.2 1329.9M1301.6 1326.4C1307.6 1326 1313.6 1324.5 1319.2 1322.2C1324.6 1319.9 1337.4 1317.7 1334.1 1312.8C1331.9 1309.7 1326.8 1309.9 1323 1309.9C1317.6 1309.9 1311.7 1311.7 1307.8 1315.4C1304.5 1318.4 1301.3 1322.9 1301.7 1327.4C1301.9 1330.3 1303.1 1333.6 1305.4 1335.5C1309.2 1338.6 1315.1 1334.5 1319.9 1333.7C1329.5 1332.1 1339 1329.7 1348.2 1326.6M1376.2 1312.2C1372.3 1310.1 1367.7 1309.1 1363.4 1309.5C1359.5 1309.9 1352.5 1309.7 1352.4 1313.6C1352.4 1316.8 1356.8 1318.3 1359.5 1319.9C1363.6 1322.4 1369.4 1320.9 1373.4 1323.6C1375.3 1324.9 1377.7 1326.1 1378.4 1328.3C1379.9 1332.7 1369.9 1332.6 1365.2 1333.1C1359.3 1333.7 1353 1332.4 1347.9 1329.5" fill="none" stroke="#27272a" stroke-width="8.5" stroke-linecap="round" stroke-linejoin="round"/>
<path d="M1476.5 1287.3C1474.2 1285.7 1471.2 1284.9 1468.4 1285.1C1465 1285.3 1461.7 1287.3 1459.2 1289.7C1454.7 1293.9 1455.7 1301.5 1454.2 1307.5C1451.2 1319.3 1454.2 1333.5 1446.9 1343.3C1444.2 1346.9 1441.7 1352.2 1437.2 1352.7C1434.5 1353.1 1431.4 1352.3 1429.2 1350.7M1435.8 1309.8L1465.6 1309.7M1489.4 1308.5C1484.3 1307.3 1478.3 1308.3 1473.9 1311.2C1470.4 1313.6 1465.9 1317.2 1466.2 1321.4C1466.4 1324.8 1469.3 1327.9 1472.2 1329.8C1475.4 1331.8 1479.7 1331.5 1483.5 1331.4C1488.3 1331.2 1493.3 1330.1 1497.4 1327.5C1500.7 1325.5 1506.3 1323.1 1505.7 1319.2C1505.4 1316.5 1502.3 1314.8 1500.2 1313C1497.8 1311.1 1495 1309.7 1492.3 1308.3C1489.3 1306.7 1497.8 1312.7 1501.1 1313.7C1506.8 1315.3 1513.8 1314 1518.6 1310.4M1518 1307.2L1507.6 1332.8M1514.2 1319.8C1515.9 1315.5 1519.3 1311.7 1523.4 1309.7C1527.6 1307.6 1532.7 1307.9 1537.4 1308.3C1541.9 1308.7 1546.4 1310 1550.4 1312.1" fill="none" stroke="#27272a" stroke-width="8.5" stroke-linecap="round" stroke-linejoin="round"/>
<path d="M789.5 1341C777.8 1341.3 768.4 1365.9 777 1374C778.7 1375.5 780.6 1377 782.8 1377.7C786.5 1378.8 791.1 1378 794.2 1375.7M770.4 1358.2L796.4 1356.7M796.3 1380.5C798.4 1372.5 800.1 1364.5 801.6 1356.3C802.9 1348.8 803.9 1341.3 804.6 1333.7M798.8 1366.4C801.7 1363.3 805.3 1360.7 809.2 1359C814.2 1356.8 820.7 1353.3 825.3 1356.3C827.1 1357.4 828.8 1359.2 829.7 1361.1C831.6 1365.6 822 1370.8 824.6 1375C826.3 1377.5 829.7 1379.1 832.7 1379.2C835.8 1379.3 839.2 1377.9 841.3 1375.6M841.9 1372C847.7 1371.7 853.5 1370.4 858.8 1368.2C862.2 1366.8 869.6 1366.4 868.6 1362.9C867.9 1360.8 865.3 1359.8 863.3 1358.9C858.8 1357.1 853.6 1359.8 849.3 1361.8C844.2 1364.2 836.5 1367.3 836.8 1372.9C837 1376.6 840 1380 843.1 1382C847.2 1384.6 852.8 1383.1 857.6 1382.3C863.2 1381.5 868.8 1379.4 873.6 1376.4" fill="none" stroke="#27272a" stroke-width="8.5" stroke-linecap="round" stroke-linejoin="round"/>
<path d="M954.1 1362.7C950 1358.7 943.2 1356.7 937.6 1357.7C934.1 1358.4 931 1360.6 928 1362.7C924.5 1365.2 919.5 1367.6 918.8 1371.9C918.3 1374.5 918.8 1377.4 920.2 1379.6C923.1 1384 930.6 1381.4 935.9 1380.9C942.1 1380.4 948.4 1378.6 953.9 1375.6M984.1 1357C978.7 1356 972.5 1357.2 967.9 1360.2C964.8 1362.3 960.9 1365.1 960.4 1368.9C960 1371.9 961.4 1375.2 963.3 1377.5C966.3 1381.2 972.4 1381.9 977.2 1381.5C982.1 1381.1 986.4 1377.9 990.5 1375.2C993.5 1373.3 998.3 1372.1 999 1368.5C999.8 1364.7 995.8 1360.8 992.4 1358.9C989.5 1357.3 985.8 1356.9 982.6 1357.6C978.8 1358.4 990.2 1359.7 994.1 1360C1000.6 1360.5 1007.2 1359.6 1013.3 1357.4M1010.3 1354C1004.6 1357.4 1002.7 1368.5 1006.9 1373.7C1009.3 1376.5 1013.3 1377.8 1017 1378.5C1021.5 1379.2 1026.5 1378.3 1030.5 1376.2C1034.8 1373.9 1038.5 1370.1 1040.5 1365.7M1042.4 1352.9C1035.8 1354.6 1031.3 1366.2 1034.9 1371.9C1036.8 1374.9 1040.1 1378.1 1043.6 1377.7C1046.2 1377.4 1048.8 1375.6 1050 1373.3M1059.5 1358L1050.2 1379.8M1052.2 1364.9C1054.7 1361.9 1058.1 1359.5 1061.8 1358.3C1066.2 1356.8 1071.2 1357.1 1075.7 1358.3C1078.2 1358.9 1080.6 1359.8 1082.8 1361M1112.3 1360C1109.2 1357.1 1103.8 1356 1099.8 1357.5C1097.7 1358.2 1095.5 1359.5 1094.3 1361.4C1093.4 1362.8 1092.9 1364.5 1093 1366.1C1093.2 1370.4 1100.9 1369.7 1104.6 1371.9C1106.8 1373.2 1109.9 1373.7 1111.1 1376C1113.5 1380.4 1101.8 1380.1 1096.8 1380.3C1091.6 1380.6 1086 1379.4 1081.3 1377M1115.5 1369.3C1122.2 1369.9 1129.2 1368.9 1135.4 1366.3C1139 1364.8 1145.2 1364.3 1145.4 1360.4C1145.6 1358.2 1144.2 1356.1 1142.8 1354.5C1138.5 1349.3 1127.8 1352.7 1122.8 1357.2C1119.5 1360.2 1115.7 1365 1116.9 1369.4C1117.6 1371.8 1119.6 1373.9 1121.7 1375.3C1124.6 1377.3 1128.7 1377 1132.3 1377C1139 1377.1 1145.8 1375.1 1151.5 1371.7" fill="none" stroke="#27272a" stroke-width="8.5" stroke-linecap="round" stroke-linejoin="round"/>
<path d="M1208.6 1343.8C1210.6 1341.4 1214.3 1340 1217.4 1340.6C1223.4 1341.6 1220 1352.8 1218.8 1358.8C1217.5 1364.9 1214.4 1370.8 1210 1375.2C1208.4 1376.8 1206.8 1378.7 1204.6 1379.5C1200.1 1381.1 1193.4 1378.4 1191.3 1374.1M1238.2 1335.1L1232.8 1343.9M1235.4 1353.9L1223.8 1378.3M1234.4 1363.6C1237.8 1359.9 1242.9 1357.3 1247.9 1356.7C1250.7 1356.3 1255.1 1354.7 1256.2 1357.2C1257.2 1359.5 1253.6 1361.5 1252.7 1363.8C1250.7 1368.8 1249.8 1374.6 1250.2 1380M1253.3 1364.1C1258.5 1360.1 1265.2 1357.6 1271.8 1357.2C1273.9 1357.1 1276.5 1356.1 1278.1 1357.4C1279.7 1358.7 1279.4 1361.3 1279.5 1363.4C1279.7 1367 1275.7 1370.2 1276.4 1373.8C1276.8 1375.7 1277.6 1377.7 1278.9 1379.1C1282.5 1382.8 1292.1 1381.1 1294.2 1376.4" fill="none" stroke="#27272a" stroke-width="8.5" stroke-linecap="round" stroke-linejoin="round"/>
<path d="M1354 1336.2C1344.8 1343.7 1339.8 1358.3 1342.6 1369.8C1343.1 1372.1 1343.1 1374.9 1344.9 1376.5C1348 1379.1 1355.6 1376.5 1356.4 1372.5M1337.4 1353.8L1360 1354.6M1362.1 1366.6C1366.3 1366 1370.5 1365 1374.4 1363.4C1378.3 1361.8 1386.2 1361.5 1385.4 1357.4C1385 1355 1382.7 1352.8 1380.4 1352.1C1376.6 1351 1373.8 1356.5 1370.6 1358.7C1366 1361.8 1356.1 1362.9 1357.1 1368.4C1357.6 1370.9 1359.5 1372.9 1361.4 1374.6C1364 1376.9 1367.6 1378 1371 1378.6C1378.3 1379.8 1387.1 1376.7 1391.9 1371.1M1428.8 1360.2C1425.7 1358.4 1422.2 1357.3 1418.7 1356.9C1412.7 1356.3 1405.8 1357.6 1401 1361.4C1398.7 1363.3 1395.8 1365.4 1395.3 1368.4C1394.7 1371.6 1396.2 1375.9 1399.1 1377.5C1401 1378.5 1403.4 1378.1 1405.6 1378C1412.2 1377.5 1419 1373.5 1422.6 1368M1430.6 1357C1428 1361.9 1425.8 1367 1423.8 1372.1C1422.9 1374.4 1420.8 1376.5 1421.4 1378.8C1422.4 1383 1435.1 1379.7 1433.9 1375.5M1463.5 1355.4C1461.6 1353.6 1459 1352.3 1456.4 1351.7C1450.7 1350.5 1443.7 1353.6 1440.2 1358.3C1438.6 1360.4 1437.2 1362.9 1437 1365.5C1436.8 1369.2 1438.6 1373.5 1441.7 1375.6C1444.4 1377.3 1448.1 1376.8 1451.3 1376.6C1458.1 1376.2 1465.2 1372.9 1469.9 1367.9M1470.3 1376.8C1471 1368.9 1472.1 1360.9 1473.4 1353.1C1474.7 1345.6 1476.2 1338.2 1478 1330.9M1471.9 1363.2C1473.2 1359.5 1476.2 1356 1479.8 1354.2C1483.9 1352.1 1490 1351.1 1493.8 1353.8C1495.5 1355 1496.9 1356.7 1497.7 1358.6C1499.5 1362.7 1491.9 1368.7 1495.1 1371.8C1496.2 1372.9 1497.6 1373.6 1499 1373.9C1501.7 1374.5 1505.1 1373.6 1507 1371.6M1511.8 1356.4C1509.3 1360.5 1508.1 1365.8 1508.5 1370.6C1508.7 1372.6 1508.3 1375.1 1509.8 1376.4C1511.9 1378.2 1517 1376.4 1517.6 1373.7M1513.5 1345.9L1515.9 1345.2M1525.6 1355L1520 1377.7M1525.5 1363.4C1525.7 1360.4 1528 1357.3 1530.7 1356.1C1533.6 1355 1537.3 1356 1539.8 1357.7C1541.7 1359.1 1543.4 1361.3 1544 1363.6C1544.7 1366.4 1541.2 1369.3 1542 1372.1C1542.4 1373.8 1543.2 1375.6 1544.6 1376.6C1546.9 1378.1 1551 1377.4 1552.6 1375.2M1588.3 1356.3C1585.6 1354.2 1582.1 1352.9 1578.7 1352.6C1573.9 1352.2 1568.5 1354 1565 1357.3C1562.4 1359.6 1559.7 1362.7 1559.7 1366.2C1559.8 1369.8 1562.4 1373.9 1565.8 1375.1C1568.9 1376.2 1572.4 1374 1575.4 1372.7C1580.7 1370.4 1585.4 1366.6 1588.7 1361.9M1591.6 1352.2C1595.3 1362 1593.6 1374.8 1587.6 1383.3C1585.3 1386.5 1582.7 1389.6 1579.3 1391.5C1574.6 1394.1 1568.2 1395.7 1563.4 1393.3C1560.8 1391.9 1558.5 1389.7 1557.2 1387.1" fill="none" stroke="#27272a" stroke-width="8.5" stroke-linecap="round" stroke-linejoin="round"/>
<path d="M1874.1 703.2C1877.4 703.7 1881.8 699.9 1881.7 696.5C1881.6 693.4 1877.5 691.7 1874.8 690.1C1870.3 687.2 1864.6 686.4 1859.3 686.4C1854.3 686.3 1848.9 686.8 1844.6 689.2C1841.1 691.1 1835.7 693.4 1835.9 697.4C1836 701.1 1840.2 705.1 1843.9 705M1876.2 727.7C1875.2 725.1 1873.5 722.8 1871.5 721C1867.7 717.7 1862 717.2 1857 716.8C1851.3 716.5 1844.6 716.5 1840 720C1838 721.6 1835.3 723.2 1835 725.7C1834.6 728.6 1837.9 731.1 1840.2 733C1844.1 736.3 1850.1 736.1 1855.2 736.6C1860.4 737.1 1866.4 738.7 1870.8 735.9C1873.3 734.3 1875.5 731.8 1876.7 729M1836.2 749.3L1880.3 761.6L1835 771.4M1852.7 754.2L1849.3 769.1M1884.4 783.9C1874.4 782.7 1864.1 783.2 1854.3 785.1C1850.2 785.9 1845.3 785.5 1842.1 788.3C1839.9 790.3 1837.4 793.1 1837.6 796C1837.8 798.7 1840.1 800.9 1842.2 802.5C1845.5 805 1850.3 803.9 1854.4 804.3C1864.2 805.1 1874.2 804.5 1883.9 802.6M1885.4 818.7L1882.2 838.2M1882.6 829.9L1838 827.1M1836.8 851L1875.8 851.7M1835 869.3L1874.9 870.6M1856.8 849.9L1853.9 870.7M1880.6 892.8C1879 889.9 1876.7 887.3 1874 885.5C1869.8 882.6 1864.3 882.3 1859.2 882.1C1852.8 881.7 1844.6 880.8 1840.1 885.4C1837.7 887.9 1834.9 891.2 1835.5 894.6C1836.1 897.5 1839.2 899.4 1841.6 901C1846.5 904.1 1853.1 902.9 1858.8 902.5C1864.4 902.1 1871.2 902.6 1875.2 898.7C1877 896.8 1878.4 894.5 1879.2 892M1835.5 917L1878.7 917M1878.7 915.9C1880.4 919.2 1880.4 923.7 1878.7 927C1876.8 930.7 1872.3 933.3 1868.2 933.6C1864.1 933.8 1859.1 931.9 1856.9 928.4C1854.8 925.2 1854.6 920.4 1856.4 917.1M1854.5 920.5L1837.5 934.9" fill="none" stroke="#27272a" stroke-width="11" stroke-linecap="round" stroke-linejoin="round"/>
<path d="M1838.3 968.2L1884.1 980L1842 996.2M1853.1 972L1857 990.1" fill="none" stroke="#27272a" stroke-width="11" stroke-linecap="round" stroke-linejoin="round"/>
<path d="M1874.5 1047.2C1877.4 1045.5 1879.5 1041.4 1879.1 1037.9C1878.8 1034.7 1875.7 1032.2 1873.2 1030C1868.7 1026.3 1862.2 1024.3 1856.4 1025.1C1851.9 1025.7 1847.7 1028.2 1844.2 1031.1C1841.6 1033.2 1838.3 1035.6 1837.7 1038.9C1836.9 1042.6 1838.7 1047.1 1841.6 1049.4C1845.3 1052.3 1852.3 1052 1855.7 1048.8M1854.9 1037.5L1856.6 1050.5M1839.3 1062.1L1883.7 1061.9M1883.8 1062.1C1886.6 1066 1886.9 1072.3 1884.6 1076.5C1882.5 1080.1 1878.1 1082.6 1874 1083.2C1869.7 1083.8 1864.6 1082.1 1861.6 1078.9C1857.6 1074.8 1856.6 1066.8 1859.3 1061.8M1860.5 1067.6L1840 1084.3M1839.6 1098.7L1885 1110.3L1840.8 1126.5M1856.5 1103.2L1859.5 1122.6M1842 1136.6L1883.6 1139.2M1883.3 1139.3C1885.6 1143.6 1885.2 1149.9 1882.3 1154C1880.1 1157.1 1876.2 1160 1872.3 1159.9C1868.8 1159.8 1865.4 1157.3 1863.1 1154.6C1859.7 1150.7 1858.4 1144.3 1860 1139.3M1836.7 1175L1877 1172.4M1839 1196.9L1879.5 1195.2M1859.1 1171.4L1858.3 1196.2M1836.8 1208.9L1880.1 1209.3M1873.6 1245.2C1877.8 1245.7 1883.2 1241.1 1883.3 1236.9C1883.4 1233.3 1879.7 1230.8 1877.1 1228.4C1873.4 1224.8 1868.5 1221.4 1863.3 1221C1857.8 1220.4 1851.7 1222.6 1847.7 1226.4C1844.6 1229.2 1840.8 1233.1 1841.5 1237.2C1842.1 1240.5 1844.8 1243.7 1847.9 1244.8" fill="none" stroke="#27272a" stroke-width="11" stroke-linecap="round" stroke-linejoin="round"/>
<path d="M1785 688.5L1823.5 687.4L1788.1 714.5L1823.8 713.6M1824.6 739.8C1823.7 736.8 1822 734 1819.8 731.7C1816.5 728.2 1811.6 725.8 1806.7 725.6C1801.5 725.4 1795.9 727.9 1792.1 731.5C1789.8 733.7 1787.3 736.3 1786.9 739.5C1786.5 743 1788.8 746.7 1791.2 749.4C1794.7 753.1 1800.5 754.3 1805.6 754.4C1810.7 754.5 1817 753.6 1820.3 749.7C1822.5 747.2 1823.8 743.8 1823.9 740.5M1825.4 764.5L1790 778.4L1827.2 793.1M1823.7 828L1822.3 806.2L1785.7 806.1L1787.4 826.7M1805.4 805.7L1806.4 820.5M1825.3 838L1787.4 840.4L1789.6 859.1" fill="none" stroke="#27272a" stroke-width="9.5" stroke-linecap="round" stroke-linejoin="round"/>
<path d="M1829.3 881.2L1789.6 885.2L1816 893.6L1788 899.9L1829.3 906.4M1825.5 932L1786.9 916.6M1791.8 943.4L1829 945.1L1803.3 954.3L1827.2 964.9L1790.4 964.3M1831.3 979.4L1810.3 987.7L1828.8 995.9M1810.6 987.4L1790.7 986.5" fill="none" stroke="#27272a" stroke-width="9.5" stroke-linecap="round" stroke-linejoin="round"/>
<path d="M1791.1 1022.7L1829.2 1025.4M1829.3 1025.2C1828.9 1028.9 1827.4 1032.6 1825.2 1035.6C1821.4 1040.9 1814.5 1045 1808 1044.8C1801.9 1044.6 1795.4 1040.8 1792.2 1035.6C1789.7 1031.6 1788.7 1026.3 1789.6 1021.7M1791.2 1057.9L1825.9 1068.7L1791.4 1082.9M1802.5 1061.3L1804.1 1079M1823.1 1096.1C1816.2 1093 1808.1 1092.1 1800.7 1093.5C1797.3 1094.2 1793.2 1094.4 1790.8 1097C1789 1099 1788.1 1102 1788 1104.8C1787.9 1107.6 1788.5 1110.9 1790.5 1112.9C1792.7 1115.2 1796.6 1114.6 1799.7 1115.1C1807.8 1116.5 1816.2 1116.6 1824.3 1115.4M1823.9 1149.2C1826.4 1148.2 1828.4 1145.6 1828.8 1142.9C1829.3 1139.7 1826.5 1136.6 1824.2 1134.3C1820.8 1130.6 1815.4 1128.8 1810.4 1128.6C1805.7 1128.4 1800.5 1129.8 1796.8 1132.7C1794.4 1134.6 1791.2 1136.9 1791.1 1140C1791 1142.6 1793.2 1145 1795 1146.9C1798.1 1150 1802.8 1151.8 1807.1 1151.5M1806.9 1140.5L1807.6 1149.6M1791.3 1163.2L1827.5 1164.2M1791.2 1183.6L1825.5 1184.8M1808.8 1161.8L1808.4 1184.7M1829.7 1195.6L1828.9 1219.1M1829 1207.7L1790.3 1208.8M1827.8 1251.7L1829.1 1232.5L1793.4 1229.5L1791.2 1249M1811.2 1232.1L1810.3 1245.7M1789.6 1261.4L1827.3 1263.4M1826 1264.3C1827.1 1268.1 1826.5 1272.7 1824.5 1276.1C1822.6 1279.2 1819.5 1283.2 1815.9 1282.9C1812.7 1282.6 1810.5 1279.3 1808.7 1276.7C1805.6 1272.3 1804.6 1266 1806.1 1260.8M1807.5 1267.3L1789.3 1281" fill="none" stroke="#27272a" stroke-width="9.5" stroke-linecap="round" stroke-linejoin="round"/>
<path d="M1992.4 762.6C1995.8 763 2000.1 759.4 2000.3 756C2000.5 753.1 1997.6 750.8 1995.5 748.8C1991.6 745.2 1985.5 744.1 1980.2 744.2C1975 744.2 1969.3 745.4 1965.3 748.7C1962.6 750.8 1959.2 753.4 1959.1 756.8C1958.9 760.3 1961.5 764.3 1964.8 765.6M1999 803.4C1997.4 801.1 1995.5 799 1993.3 797.2C1989.8 794.5 1985.5 792.2 1981.1 791.7C1975.4 791.2 1967.9 792.6 1964.8 797.4C1963.2 800.1 1962 803.6 1962.9 806.5C1963.6 808.6 1965.3 810.4 1967 811.8C1970.6 814.6 1975.8 814.4 1980.4 814.4C1985.1 814.3 1990.8 814.5 1994.2 811.3C1996.1 809.5 1997.5 807 1998.1 804.4M1959.7 843.9L2000.7 856.1L1959.8 866.8M1975.8 849.4L1973.8 864.8M1993.6 915.9C1997 916.4 2001.4 912.8 2001.6 909.3C2001.7 906.2 1997.9 904.2 1995.5 902.2C1991.5 898.9 1986.5 896.1 1981.4 896C1976.2 895.8 1970.8 898.2 1966.7 901.4C1964 903.6 1960.1 906.1 1960.2 909.6C1960.3 913.1 1963.8 917 1967.3 917.5M1958.7 945.9L1999.9 946.7M1957.7 965.8L1998.5 967.3M1980.2 945.8L1979 967.7M1962.5 996.7L2002.6 994.5M1958.3 1025.1L1996.4 1022.2L1961.5 1046.6L1998.9 1045.6M1993.7 1094.5C1996.9 1093.2 1999.4 1089.1 1999.1 1085.6C1998.8 1082.5 1995.9 1080.1 1993.5 1078.1C1989.8 1075.1 1984.7 1073.5 1980 1073.6C1974.5 1073.6 1968.5 1075.9 1964.9 1080C1963.1 1082 1960.9 1084.4 1961 1087.1C1961.1 1089.8 1963.4 1092.1 1965.5 1093.8C1968.7 1096.3 1973.6 1097.2 1977.5 1096.1M1976.4 1086.6L1976.2 1095.5" fill="none" stroke="#27272a" stroke-width="5" stroke-linecap="round" stroke-linejoin="round"/>
<path d="M2307.7 689.5L2264.7 687.7L2265.2 707.1M2263 721.4L2313.5 720.8M2311.3 737L2311.9 764.6M2312.3 750.3L2270 747.3M2316.9 799.5L2315.2 774.4L2269.2 776.8L2266.9 799.1M2293.8 778L2293.1 794.5M2263.4 815.1L2309.3 811.5M2311.8 812.8C2313.5 816.6 2313.5 821.6 2311.7 825.4C2309.8 829.4 2305.7 832.9 2301.3 833.7C2296.7 834.5 2291.1 832.4 2288.1 828.7C2284.9 824.6 2284.3 817.7 2286.9 813.2M2288 817.3L2264.5 838.3M2263.5 852.2L2308.5 861.3L2266.3 881.7M2279.5 855.8L2282 876.9M2305.5 919.8C2310.4 921 2317.5 915.1 2317.1 910.1C2316.8 905.9 2311.3 903.8 2307.8 901.5C2302.7 898.2 2296.7 895.7 2290.6 895.5C2285 895.3 2278.7 896.2 2274.2 899.7C2270.7 902.5 2265.9 906.5 2266.8 910.8C2267.6 914.3 2271.3 917.6 2274.9 917.9M2312.4 932L2289.3 948.2L2315 959.8M2290.8 947.4L2266.8 948.2" fill="none" stroke="#27272a" stroke-width="9.5" stroke-linecap="round" stroke-linejoin="round"/>
<path d="M2313.2 986.6L2313.1 1021M2312.2 1002.6L2268 1004.3M2313.8 1048.8C2313.4 1045 2311.5 1041.1 2308.8 1038.4C2304.8 1034.6 2298.3 1034.9 2292.8 1034.4C2286.3 1033.8 2278 1031.7 2273.2 1036.2C2270.4 1039 2268.5 1043 2268.3 1046.9C2268 1051.9 2270.7 1057.4 2274.6 1060.5C2278.8 1063.8 2285.1 1063.1 2290.5 1063C2297 1062.8 2304.6 1062.6 2309.5 1058.3C2311.7 1056.3 2313.6 1053.7 2314.7 1051M2311.2 1104.9C2314.8 1103.7 2318 1100.1 2318.7 1096.4C2319.6 1091.4 2314.4 1086.8 2310.4 1083.6C2305.6 1079.8 2298.9 1078.8 2292.8 1078.6C2286.8 1078.4 2279.9 1078.8 2275.2 1082.4C2271 1085.6 2266 1090.7 2267.1 1095.8C2267.9 1099.4 2271.5 1101.9 2274.4 1104.2C2278.9 1107.6 2284.7 1109.8 2290.3 1110.1M2291.3 1094.2L2288 1108.5M2316.9 1146.7L2315.2 1119L2266.6 1124.3L2267.3 1148M2290.7 1122.8L2292.6 1140.9M2309.9 1159.2L2311.1 1192.4M2310.7 1173.3L2268.4 1179.4M2267.9 1205.9L2315.4 1204.7M2267.1 1233.5L2314.2 1235M2291.1 1207L2291.6 1235.2M2314.9 1273L2314.1 1246L2267 1248.6L2267.6 1273.9M2292.9 1247.9L2291.9 1266.1M2270 1287.2L2315.8 1283.5M2316.5 1284.9C2316.8 1290.2 2316.1 1295.6 2314.4 1300.6C2313 1304.6 2312.3 1310.3 2308.3 1311.9C2303.4 1313.8 2298 1307.7 2294.8 1303.5C2291.6 1299.4 2289.8 1294 2289.9 1288.9M2291.5 1294.5L2271 1316.5" fill="none" stroke="#27272a" stroke-width="9.5" stroke-linecap="round" stroke-linejoin="round"/>
<path d="M2199.9 713.9L2240.6 714.5M2241.7 713.1C2243.2 718.2 2242.6 724.2 2240.3 728.9C2238.7 732.3 2236.7 738.1 2232.9 737.6C2230.1 737.1 2228.8 733.6 2227.1 731.3C2223.7 726.5 2221.5 720.4 2221.1 714.5M2221.9 717C2224.3 723.2 2224 730.9 2221.3 736.9C2219.4 741 2217.2 747.3 2212.7 747.2C2208.7 747.1 2206.5 742 2204.4 738.6C2200.8 732.5 2199.9 724.2 2202 717.5M2241.8 763L2201 763.9L2201.8 789.5M2245.5 821.4C2245 817.1 2242.4 812.7 2238.9 810.2C2234.2 806.8 2227.2 807.7 2221.6 809C2216.1 810.3 2210.6 813.1 2206.9 817.4C2204.5 820.1 2202 823.3 2201.7 827C2201.2 832.2 2205 837.9 2209.5 840.6C2214.3 843.5 2220.7 841.9 2226.1 840.6C2231.1 839.5 2236.6 838.1 2239.9 834.3C2242.6 831.3 2244.3 827.3 2244.6 823.3M2240.8 889.3C2243.5 886.4 2245.1 882.3 2245 878.5C2245 873.5 2241.9 868.3 2237.8 865.4C2233.6 862.4 2227.6 861.9 2222.6 863C2217.9 864 2213.5 867 2210.4 870.6C2207.3 874.4 2203.9 879.6 2205.1 884.3C2205.8 886.9 2207.6 889.1 2209.5 891C2212.7 894.1 2217.4 896 2221.8 896.1M2220.7 878.2L2221.1 894.2" fill="none" stroke="#27272a" stroke-width="11" stroke-linecap="round" stroke-linejoin="round"/>
<path d="M2199.8 928L2244.6 930.9M2245.3 932.1C2246.7 936.4 2245.7 942.1 2242.8 945.7C2240.4 948.7 2236.5 951.1 2232.6 951.1C2228.8 951.1 2224.7 948.8 2222.4 945.6C2219.2 941.3 2219.5 933.7 2222.9 929.5M2247.1 981.3C2245.9 978 2243.7 975 2241 972.8C2236.6 969.3 2230.2 969.1 2224.7 969.2C2219 969.4 2212.5 970 2208.3 973.8C2205.3 976.5 2201.6 980.3 2202.4 984.2C2203 987.2 2206.1 989.3 2208.6 991C2213 993.9 2219 993.6 2224.2 993.3C2230.4 993 2237.7 992.7 2242 988.3C2244.5 985.8 2246.3 982.5 2247 979.1M2242.7 1031.1C2246.5 1031.4 2251.1 1028 2251.8 1024.3C2252.4 1020.9 2250.1 1017 2247.3 1015.1C2244.3 1013.3 2240.2 1013.8 2236.9 1014.9C2233.5 1016 2230.8 1018.8 2228.4 1021.4C2225.8 1024.1 2225.3 1028.6 2222.2 1030.6C2219 1032.8 2214.5 1034.2 2210.9 1032.8C2207.7 1031.5 2205.1 1027.9 2204.5 1024.5C2203.7 1020.4 2205.9 1015.2 2209.3 1012.9M2247.8 1051L2247.2 1075.9M2245.1 1065.5L2204.9 1063.2M2243.4 1116.1C2247.3 1115.5 2251.1 1110.8 2250.8 1106.9C2250.6 1104.2 2248.6 1101.8 2246.6 1100C2244.3 1097.9 2241.2 1096.1 2238 1096.2C2233.9 1096.3 2231.2 1100.8 2228.1 1103.5C2225.4 1105.9 2223.7 1109.5 2220.5 1111.2C2218.2 1112.6 2215.4 1114.1 2212.7 1113.7C2208.9 1113.3 2204.9 1109.5 2204.4 1105.7C2203.9 1101.8 2206.8 1097 2210.5 1095.7" fill="none" stroke="#27272a" stroke-width="11" stroke-linecap="round" stroke-linejoin="round"/>
<path d="M1118.6 1859.9L1114.7 1792.4M1118.6 1792.4C1127.9 1789.2 1139.8 1790.9 1147.8 1796.5C1152 1799.5 1156.9 1803.3 1158 1808.3C1159.5 1815.5 1152.6 1822.9 1146.6 1827.1C1138.8 1832.8 1126.2 1833.6 1117.6 1829.2M1207.9 1786.7C1200.2 1786.6 1192 1789.8 1186.4 1795.1C1178.6 1802.3 1177.2 1815 1177.2 1825.6C1177.2 1835.2 1177.7 1847 1184.9 1853.4C1189.3 1857.5 1195.4 1860.2 1201.4 1860.4C1207.8 1860.5 1214.3 1857.5 1219.2 1853.4C1227.3 1846.6 1229.1 1833.8 1229.1 1823.2C1229.1 1813.1 1228.1 1800.4 1220.1 1794.1C1215.3 1790.3 1208.6 1788.1 1202.4 1788.4M1283.8 1791.5L1243.5 1789.2L1243.7 1871L1282.2 1868.1M1246.7 1828.2L1274.6 1827.8M1301.3 1791.3L1353.8 1792.8M1329.8 1792L1324.4 1870.9M1366 1863.2L1368.4 1785.3M1371.6 1785.9C1379.6 1786.5 1387.6 1788.6 1394.8 1792.1C1400.7 1795 1409.1 1797.2 1410.9 1803.4C1413.4 1811.7 1402.9 1819.8 1395.4 1823.9C1387.5 1828.2 1376.9 1828.9 1368.5 1825.7M1376.1 1829.9L1412.5 1863.2M1429.6 1792.8L1450.1 1831.9L1474.7 1790.3M1451.9 1830.1L1453.7 1866.1" fill="none" stroke="#27272a" stroke-width="10" stroke-linecap="round" stroke-linejoin="round"/>
<path d="M1011 1979.4L1009.7 1936.6M1009.1 1934.6C1015.5 1929.5 1027.5 1929.8 1033.6 1935.2C1036 1937.3 1038.6 1939.9 1038.9 1943C1039.4 1947.7 1033.7 1951.2 1029.7 1953.6C1023.9 1957.2 1015.7 1958.1 1009.3 1955.8M1011.3 1955.2C1020.8 1952.5 1032.1 1953.9 1040.8 1958.7C1044.5 1960.8 1049.8 1962.4 1050.7 1966.5C1052 1972.2 1042.9 1975.5 1037.7 1978C1029.5 1981.8 1018.7 1981.7 1010.6 1977.6M1063.7 1981.3L1058.7 1936.5M1072.5 1981.1L1074 1933.6M1106.3 1934.1L1072.5 1959.1L1108.8 1981.1M1154.8 1935.7L1121.3 1934.5L1119.2 1980.9L1156.9 1978.5M1119.5 1955.8L1148.9 1957.1" fill="none" stroke="#27272a" stroke-width="8" stroke-linecap="round" stroke-linejoin="round"/>
<path d="M1186.7 1980.1L1186.5 1934.4M1187.8 1935.5C1192.8 1933.8 1199 1934.3 1203.7 1936.9C1207.3 1938.9 1211.7 1941.9 1212 1946C1212.3 1950.1 1208.2 1953.7 1205 1956.3C1199.9 1960.4 1192.4 1962.2 1186 1960.8M1192.4 1959.9L1211.3 1980.6M1222.7 1980.7L1224.9 1937.1M1234.4 1980.7L1238.6 1938.6M1236.8 1939C1241.3 1938.5 1246.2 1939.4 1250.3 1941.5C1256.5 1944.9 1261.8 1952.2 1262 1959.3C1262.2 1966.6 1257.1 1974.6 1250.7 1978C1246 1980.5 1240.1 1981.1 1235.1 1979.7M1298.2 1932.1L1273.6 1933.5L1276.1 1978.4L1296.5 1979M1276.4 1953.8L1293.5 1953.7" fill="none" stroke="#27272a" stroke-width="8" stroke-linecap="round" stroke-linejoin="round"/>
<path d="M1355.9 1936.6C1356.4 1946.6 1355.5 1956.8 1353.4 1966.5C1352.5 1970.5 1353.5 1975.9 1350.2 1978.2C1348.3 1979.6 1345.7 1979.8 1343.4 1979.9C1340 1980 1335.6 1979.7 1333.5 1977C1331.8 1974.7 1331.4 1971.2 1332.4 1968.6M1381.3 1930.1C1377.1 1931.6 1373.1 1934.6 1370.5 1938.3C1367.1 1943.2 1366.2 1949.9 1366.9 1955.8C1367.5 1961.2 1369.7 1966.9 1373.4 1970.9C1376.3 1974 1379.9 1977.7 1384.1 1977.7C1388.6 1977.6 1392.5 1973.5 1395 1969.9C1398.3 1965.1 1398.2 1958.5 1397.8 1952.7C1397.2 1946.5 1395.9 1939.5 1391.4 1935.2C1388.2 1932.1 1383.6 1930 1379.2 1929.5M1407.3 1930.7C1401.9 1940.3 1402.6 1954.4 1408.7 1963.5C1410.5 1966.2 1413.1 1968.4 1415.5 1970.7C1417.7 1972.8 1419.4 1976.1 1422.4 1976.7C1426.6 1977.5 1431.1 1973.8 1433.2 1970.2C1435 1967.3 1434.3 1963.5 1434.6 1960C1435.5 1950.6 1435.2 1941 1433.8 1931.7M1447.6 1979L1447.1 1933.8M1444.8 1935.4C1450 1931.9 1457.9 1931.6 1463.4 1934.5C1466.9 1936.4 1470.6 1939.4 1471.4 1943.3C1472.4 1948.1 1468.3 1953.3 1464.4 1956.4C1459.4 1960.3 1451.3 1961.3 1445.5 1958.8M1451.7 1957.8L1472.4 1979.2M1483.3 1977.3L1484.3 1931.2L1511.3 1979.4L1513.1 1932.3M1521.1 1976.7L1538.9 1931.3L1555.3 1977.5M1528.1 1959.2L1549.9 1959.5M1567.2 1928.8L1565 1974.7L1585.6 1977.2" fill="none" stroke="#27272a" stroke-width="8" stroke-linecap="round" stroke-linejoin="round"/>
<path d="M940.6 2089C938.1 2084.1 932 2080.4 926.5 2080.3C922.2 2080.3 917.9 2082.5 914.7 2085.3C912.4 2087.4 909.3 2089.9 909.4 2093C909.6 2097.6 917.9 2096.6 921.8 2098.8C926.2 2101.3 931.3 2103.1 934.2 2107.2C935.2 2108.7 936.2 2110.3 936.7 2112C938.7 2119.8 922.6 2121.9 914.6 2121.4C908.2 2121 901.7 2118 897.2 2113.5M964.2 2081.4C952 2084 943.9 2106.9 951.7 2116.6C952.4 2117.5 953.2 2118.4 954 2119.1C958.8 2123.1 968.5 2122.2 972.5 2117.5M940.6 2099.1L976.3 2095.9M1019.1 2098.5C1014.7 2096.8 1010 2095.8 1005.3 2095.6C998 2095.3 989.2 2095.2 984.1 2100.4C981.6 2102.9 978.4 2106.1 978.9 2109.6C979.3 2112.5 981.8 2115 984.3 2116.6C987.9 2118.9 993 2117.3 997.3 2116.8C1006 2115.6 1014.6 2111.4 1021 2105.4M1021.9 2094.2C1016.9 2096.5 1013.6 2104.4 1015.7 2109.5C1017.2 2113.4 1021.7 2116.4 1025.8 2117C1030.6 2117.8 1036.5 2115.3 1039.2 2111.2M1033.5 2092.2L1030.8 2116.2M1032.6 2104.5C1034.6 2099.7 1039 2095.6 1043.9 2094C1047.3 2092.9 1051 2093.6 1054.6 2093.8C1058.7 2093.9 1062.9 2094.3 1067 2094.9M1087.3 2073.1C1073.7 2075.8 1065.2 2102.8 1074.8 2112.7C1077.1 2115 1079.8 2117.1 1082.9 2118.1C1088.7 2120.1 1096.6 2118.2 1100.9 2113.7M1068.9 2091.9L1097.1 2090.6" fill="none" stroke="#27272a" stroke-width="7.5" stroke-linecap="round" stroke-linejoin="round"/>
<path d="M1133.9 2094C1131.3 2099.3 1131.1 2106.1 1133.4 2111.6C1134 2113.1 1134.5 2114.8 1135.8 2115.9C1138.8 2118.4 1143.9 2114.7 1147.1 2112.3C1151.3 2109 1154 2103.1 1153.7 2097.8M1151.4 2099C1148.7 2102.5 1148.9 2108.7 1151.6 2112.1C1153.4 2114.2 1156.2 2116 1159 2115.9C1162.7 2115.9 1165.1 2111.4 1167.3 2108.4C1170.5 2104.1 1167.8 2095.1 1172.9 2093.3C1175.3 2092.4 1178.2 2092.5 1180.6 2093.5M1181.5 2092.2L1178.1 2115.3M1179.9 2102.3C1181.3 2098.7 1183.9 2095.4 1187.2 2093.2C1189.9 2091.5 1193.2 2090.4 1196.4 2090.1C1200.5 2089.8 1204.9 2090.7 1208.5 2092.6M1206.9 2088.6C1199.4 2090.8 1194.9 2105 1199.9 2111.1C1201 2112.4 1202.3 2114 1204 2114.5C1205.9 2115.1 1208.3 2114.8 1210 2113.7M1214.4 2079.4L1217.2 2076M1236.5 2078.2C1225.1 2082.2 1218.1 2102.3 1224.6 2112.6C1226.2 2115.2 1227.9 2119.1 1230.9 2119.2C1233.4 2119.3 1236.2 2117.5 1237.2 2115.2M1223 2093.5L1240.2 2093.1M1246 2093.3C1244.7 2098.5 1244.9 2104.2 1246.4 2109.3C1247.1 2111.5 1247.2 2114.5 1249.2 2115.7C1252.1 2117.3 1257.7 2114.3 1257.9 2111M1250.8 2080L1249.7 2081.6M1264.4 2093.3L1256.4 2115.8M1261.3 2101.1C1263.6 2098.1 1266.8 2095.7 1270.2 2094.3C1273.4 2093 1278.6 2090.1 1280.5 2093C1281.9 2095.3 1278.7 2098.2 1278.5 2101C1278.2 2104.8 1279.2 2108.7 1280.2 2112.4C1280.6 2113.8 1280.5 2115.6 1281.6 2116.4C1283.3 2117.7 1286.8 2116.5 1287.5 2114.5M1325.2 2093C1324.4 2090 1321.9 2087.1 1319.1 2085.7C1313.7 2083.2 1307.7 2089.6 1303 2093.2C1299.7 2095.8 1295.8 2098.5 1294.3 2102.5C1293.4 2105 1292.2 2108.1 1293.4 2110.5C1295.3 2114.1 1301.7 2112.1 1305.7 2111.4C1313.3 2110.2 1320.8 2104.7 1324.4 2097.9M1328.7 2089C1328.7 2100.8 1324.5 2113.1 1317.3 2122.5C1314 2126.8 1310.7 2132.3 1305.5 2133.9C1301.8 2135.1 1297 2135.9 1293.8 2133.6C1291 2131.6 1289.2 2127.8 1289.5 2124.4" fill="none" stroke="#27272a" stroke-width="7.5" stroke-linecap="round" stroke-linejoin="round"/>
<path d="M1427.4 2090.9C1424.2 2088.1 1419.8 2086.4 1415.6 2086.3C1409.9 2086.1 1404.4 2089.5 1400.1 2093.2C1396.7 2096.1 1391 2099.7 1392.2 2104C1393 2106.9 1396.1 2108.9 1398.8 2110.1C1401.8 2111.5 1405.4 2111.7 1408.6 2111.1C1414.8 2109.9 1420.8 2104.3 1422.4 2098.2M1434.1 2058C1425 2071.1 1421.3 2089.1 1424.5 2104.7C1425 2106.9 1424.6 2109.6 1426.2 2111.2C1429 2113.8 1436.3 2111.5 1437.1 2107.8M1455 2086.7C1449.7 2087.5 1444.4 2089.5 1439.8 2092.3C1436.2 2094.6 1430.9 2096.5 1430 2100.7C1429.3 2104.1 1430.7 2108.2 1433.1 2110.6C1435.1 2112.6 1438.1 2113.6 1440.9 2114C1444.9 2114.6 1449.4 2113.4 1452.8 2111.1C1456.6 2108.6 1458.7 2104 1460.5 2099.7C1461.5 2097.2 1463.4 2094.5 1462.6 2092C1461.6 2088.4 1454.2 2090.2 1452.9 2086.7C1451.4 2082.5 1461.4 2090.6 1465.8 2090.4C1469.1 2090.2 1472.5 2089.2 1475.3 2087.6M1479.8 2084.7C1474 2086.9 1470.2 2096.6 1473 2102.1C1474.4 2104.7 1476.6 2107.6 1479.4 2108C1482 2108.3 1484.4 2106.4 1486.6 2105.1C1491.6 2102.1 1495.9 2097.1 1498 2091.7M1494.3 2089.1C1490.4 2092.2 1489.3 2099.8 1492.2 2103.8C1493.9 2106.2 1496.8 2107.9 1499.7 2108.3C1503.6 2108.8 1507.5 2106.1 1510.4 2103.5C1515.2 2099.2 1509.9 2086.4 1516.2 2085C1519.9 2084.3 1524.5 2085.8 1526.9 2088.6M1527.1 2083.1L1520.2 2111.1M1526.5 2094.4C1528.7 2091.1 1532 2088.4 1535.7 2087C1538.6 2085.8 1543.3 2083.1 1545.1 2085.7C1546.4 2087.7 1544.2 2090.5 1543.8 2092.9C1543 2097.1 1539.2 2102.1 1541.6 2105.6C1542.5 2106.9 1543.6 2108.1 1545 2108.7C1547.6 2109.8 1551.5 2108.8 1553.3 2106.6" fill="none" stroke="#27272a" stroke-width="7.5" stroke-linecap="round" stroke-linejoin="round"/>
<path d="M1614.9 2064.5C1607.1 2075.2 1602.2 2088.6 1601.1 2101.8C1601 2103.3 1600.5 2105 1600.9 2106.5C1602.2 2111.2 1614.8 2110.1 1615.3 2105.3M1595.3 2083.3L1619.4 2082.3M1616.5 2111.2C1621 2103.1 1624.4 2094.3 1626.6 2085.2C1628.5 2077.7 1629.5 2070 1629.6 2062.3M1623.3 2097.7C1626 2094 1629.3 2090.8 1633.1 2088.3C1636.1 2086.3 1639.3 2083.4 1642.9 2083.7C1646.5 2084.1 1650.4 2087 1651.6 2090.5C1653.1 2094.9 1644.3 2098.6 1645.6 2103C1646.6 2106.4 1649.9 2110.1 1653.4 2110.2C1656 2110.3 1658.8 2108.9 1660.3 2106.8M1663.3 2100.8C1668.5 2099.3 1673.6 2097.5 1678.6 2095.5C1683.4 2093.6 1694.4 2094.1 1692.8 2089.1C1692.1 2086.9 1690 2085.1 1687.9 2084C1683.1 2081.5 1677.2 2086.8 1672.7 2089.9C1668.6 2092.9 1660.6 2096.5 1662.6 2101.2C1663.6 2103.5 1666.1 2104.9 1668.4 2106.1C1672.6 2108.3 1677.9 2107.4 1682.7 2106.9C1688.9 2106.2 1695.2 2104 1700.5 2100.7" fill="none" stroke="#27272a" stroke-width="7.5" stroke-linecap="round" stroke-linejoin="round"/>
<path d="M947.3 2141.9C947.3 2153.4 942.6 2165.5 934.8 2173.9C932 2177 929.3 2181 925.3 2181.9C920.5 2182.8 914.6 2180.5 911.8 2176.6M948.9 2128.5L950.3 2127.7M976.5 2139.7C971.6 2141.4 966.8 2143.5 962.3 2146C958.5 2148 951 2148.6 951.3 2152.9C951.5 2156.2 955.4 2158.1 958.1 2159.9C961.5 2162.1 965.6 2164 969.7 2163.6C973 2163.2 976.2 2161.4 978.7 2159.2C981.8 2156.5 984 2152.6 984.9 2148.6C985.4 2146.4 986.2 2143.8 985.2 2141.8C983.4 2138.3 977.2 2140.2 973.4 2141.1C968.8 2142.2 982.7 2143.4 987.4 2142.7C990.5 2142.2 993.7 2141.2 996.5 2139.6M990.2 2164C992.1 2156 994.8 2148.2 998.1 2140.6C1001.2 2133.5 1004.9 2126.6 1009.1 2120.1M1024.7 2139.7L996.5 2150.5L1022.1 2161.5M1027.1 2154.6C1034 2155.8 1041.4 2155.2 1048 2152.7C1052.4 2151.1 1062.4 2149.7 1060.2 2145.5C1058.9 2142.9 1055.3 2142.2 1052.5 2141.7C1047.2 2140.7 1042 2144.3 1037.2 2146.8C1033 2149.1 1024.8 2150.6 1025.5 2155.3C1026 2158.6 1029.9 2160.6 1032.9 2162.2C1036.5 2164.2 1041 2164.6 1045.2 2164.8C1052.5 2165 1060.2 2162.8 1066.2 2158.7M1097.4 2142C1094.9 2138.4 1089.4 2136.1 1085 2137C1082.7 2137.5 1079.9 2138.5 1078.7 2140.5C1077.7 2142.3 1077.6 2144.6 1078.2 2146.5C1079.4 2150.2 1086.6 2148.1 1088.7 2151.3C1090.3 2153.6 1091.4 2156.8 1090.5 2159.5C1088.8 2164.4 1080.1 2161.1 1074.9 2160.2C1072.1 2159.7 1069.3 2158.9 1066.6 2157.8" fill="none" stroke="#27272a" stroke-width="7.5" stroke-linecap="round" stroke-linejoin="round"/>
<path d="M1141.2 2137.6L1132.9 2160.3M1140 2147.2C1142.6 2143.8 1146.2 2140.9 1150.1 2139.3C1154.4 2137.6 1160.7 2134.7 1164 2138.1C1165.5 2139.6 1166 2142 1166.5 2144.2C1167.3 2148.8 1165.9 2154.2 1162.8 2157.8M1160.3 2146.2C1163.9 2142.4 1168.8 2139.6 1173.9 2138.4C1177.7 2137.5 1182.3 2136.1 1185.6 2138.1C1188.1 2139.6 1190.6 2142.3 1190.7 2145.2C1190.7 2148.2 1185.8 2149.6 1185.6 2152.5C1185.4 2155 1186.2 2158 1188.2 2159.6C1191.6 2162.3 1200 2158 1199.8 2153.7M1211.1 2134.7C1207.4 2137.9 1205.4 2143.6 1206.1 2148.3C1206.7 2151.7 1208 2155.9 1211.1 2157.3C1214.1 2158.6 1217.6 2156.4 1220.8 2155.4C1227.9 2153.3 1234.6 2149.5 1240.2 2144.6M1240.5 2134.3C1238.4 2145.4 1233.3 2156.2 1226 2164.8C1222.7 2168.8 1219.6 2173.7 1214.8 2175.4C1210.2 2177 1202.9 2178.8 1200.4 2174.7C1199.5 2173.3 1199 2171.5 1199.1 2169.8" fill="none" stroke="#27272a" stroke-width="7.5" stroke-linecap="round" stroke-linejoin="round"/>
<path d="M1340 2158.2C1341.3 2149.1 1343.8 2140 1347.3 2131.5C1350.9 2122.7 1355.6 2114.3 1361.3 2106.7M1377.6 2133.6L1345.4 2146.5L1369.9 2158M1388.5 2131.2C1386.1 2136.7 1385 2143 1385.5 2149C1385.7 2151 1385.4 2153.3 1386.5 2154.9C1389.1 2158.4 1399.1 2154.5 1398.5 2150.2M1391.9 2120.3L1391.5 2117.1M1452.3 2136.3C1446.8 2134 1440.9 2132.7 1435 2132.5C1427.6 2132.3 1419.1 2132.4 1413.1 2136.7C1410.2 2138.9 1406.4 2141.4 1405.8 2145C1405.3 2148.4 1407 2152.3 1409.4 2154.8C1414.2 2159.7 1423.5 2154.5 1429.9 2151.9C1435.5 2149.7 1440.8 2146.1 1444.9 2141.7M1457.7 2108.5C1443.5 2109.1 1433.5 2140.7 1444.8 2149.3C1447.2 2151.1 1450 2152.6 1452.9 2153.2C1457 2154 1461.7 2153.1 1465.3 2150.9M1494.4 2131.2C1490.5 2128.3 1485.3 2126.7 1480.5 2126.9C1476.8 2127.1 1470.2 2126.5 1469.8 2130.2C1469.5 2132.9 1472.9 2134.8 1474.9 2136.8C1478.4 2140.1 1484.9 2139.7 1487.4 2143.7C1488.5 2145.3 1489.6 2147.2 1489.5 2149.2C1489.4 2154.4 1479.2 2151.4 1474 2151.1C1468.8 2150.8 1463.6 2149.7 1458.8 2147.6" fill="none" stroke="#27272a" stroke-width="7.5" stroke-linecap="round" stroke-linejoin="round"/>
<path d="M1549.5 2118.2C1540.2 2124 1534.1 2137.5 1536 2148.4C1536.4 2150.7 1536.5 2153.1 1537.9 2154.9C1541.5 2159.6 1554.2 2155.8 1554.7 2150M1526.5 2132.7L1553.7 2132.3M1563 2144.2C1568.1 2143.5 1573.2 2142.4 1578.2 2140.9C1585.4 2138.8 1604.5 2137.2 1599 2132.2C1596.2 2129.6 1591.8 2129.5 1588.1 2129.2C1580.6 2128.5 1572.3 2130.9 1566.4 2135.6C1564 2137.5 1560.6 2139.3 1560.2 2142.3C1559.7 2145.9 1563.4 2149.3 1566.6 2151.2C1570.9 2153.8 1576.7 2151.3 1581.7 2150.8C1590.4 2149.9 1599 2147.9 1607.2 2144.8M1604 2144.6C1611.8 2140.8 1618.5 2134 1622.2 2126.3C1624.6 2121.3 1630.3 2113.7 1626.1 2110C1623.9 2108.1 1620.4 2106.9 1617.7 2107.8C1616.2 2108.4 1615.1 2109.7 1613.9 2110.8C1605.8 2118.3 1606.4 2132.9 1609 2143.7C1609.4 2145.5 1609.7 2147.5 1610.7 2149.1C1614.2 2154.9 1628.1 2154.3 1631.1 2148.2M1626.6 2147C1636.6 2144.5 1646 2135.5 1649.1 2125.6C1650.4 2121.2 1648.7 2116.2 1650.2 2111.8C1651.1 2109.1 1654.8 2106.9 1654.1 2104.2C1653.1 2100.1 1646 2106.8 1642.5 2109.2C1632.1 2116.2 1621.6 2133.7 1628.6 2144.2C1630.6 2147.3 1633.2 2150.7 1636.8 2151.7C1641.2 2152.9 1646.9 2150.9 1649.7 2147.3" fill="none" stroke="#27272a" stroke-width="7.5" stroke-linecap="round" stroke-linejoin="round"/>
<path d="M822 2477.5L822 2496.6M821.7 2485.7L780.3 2486.6M817.8 2506.2L778.6 2511L805.4 2518.2L780 2525.2L816.8 2532.1M820.9 2549.9C820 2547.4 818.3 2545.2 816.3 2543.6C812 2540.3 805.5 2542 800.1 2542.4C794.3 2542.9 786.9 2542.2 783 2546.6C781.6 2548.2 779.9 2550 779.9 2552.1C779.9 2554.9 782.9 2557.1 785.2 2558.6C789.5 2561.5 795.6 2559.5 800.8 2559C806.2 2558.4 812.6 2558.8 816.5 2555C818.2 2553.4 819.5 2551.3 820.3 2549" fill="none" stroke="#27272a" stroke-width="7.5" stroke-linecap="round" stroke-linejoin="round"/>
<path d="M828.2 2581.7L787.6 2588.3L813.8 2598.6L786.8 2608.4L825.3 2618.8M788.3 2626.7L826.3 2626.3M826.8 2627C828.1 2631.1 827.5 2636.2 825.1 2639.8C823.4 2642.4 820.9 2645.1 817.8 2645.6C813.8 2646.4 809.3 2643.2 806.9 2639.9C804.4 2636.2 803.9 2630.5 805.8 2626.5M806.2 2631.8L788.4 2649.2M791.2 2656.3L832 2657.4M827.6 2667.2L830.2 2693.4M830.3 2679.4L789.3 2680M790.8 2701.3L830.5 2704.1M791 2711.7L833.2 2712.4L790.5 2737.7L834.1 2737.2M821.6 2767.7C823.7 2766.3 825.3 2763.8 825.7 2761.3C826.3 2757.4 822.6 2753.8 819.8 2751.2C816.1 2747.9 810.8 2745.7 805.8 2746C801.1 2746.2 796.3 2748.7 793.1 2752.2C790.5 2755 787.5 2758.9 788.2 2762.7C788.5 2764.9 789.7 2767.1 791.4 2768.6C794.4 2771.4 800 2772.2 803.6 2770.3M806.2 2758.5L803.8 2771.6" fill="none" stroke="#27272a" stroke-width="7.5" stroke-linecap="round" stroke-linejoin="round"/>
<path d="M825.5 2787.1L822.6 2807.1M823.6 2798L785.5 2795.3M828.7 2833.9L827.6 2815.6L786.3 2816.6L786.3 2834.9M809.8 2816.2L809.2 2830.4M786.9 2843L830.1 2855.2L786.7 2865.3M802.5 2846.1L802.6 2862.6M820.6 2897.6C824 2896.7 827 2893.2 827.4 2889.8C827.8 2886 824 2882.8 821.1 2880.3C817.7 2877.4 813.3 2875.6 808.9 2875.3C803.2 2874.8 797 2876.9 792.7 2880.6C790.2 2882.8 786.9 2885.2 786.9 2888.5C787 2891.6 789.5 2895.1 792.5 2896.1M786.8 2904.2L823.8 2905.7M784 2925.2L823.7 2926.1M806.2 2906L804.3 2925.4M825.1 2953L825.7 2934.3L785.8 2934.9L784.5 2951.2M805.5 2934.9L806.9 2947.6M787.2 2963.6L828.4 2959.1M828.6 2961.1C830.5 2964.6 830.1 2969.8 827.8 2972.9C826 2975.3 822.9 2976.9 819.9 2977.3C816.4 2977.7 812.3 2976.5 809.9 2973.9C807.3 2971.1 806.3 2966.4 807.5 2962.8M807.5 2967.2L789 2982M818.3 3007.3C820.9 3008 824.4 3006.6 825.8 3004.3C827.3 3001.7 825.8 2997.5 823.7 2995.4C821.8 2993.4 818.7 2992.7 816 2992.8C812.6 2993 809.6 2995.4 807 2997.7C804.8 2999.6 804.1 3003 801.6 3004.7C799.2 3006.4 796 3008.1 793.2 3007.3C789.7 3006.3 787.6 3001.6 787.5 2998C787.4 2994.2 789.9 2989.9 793.3 2988.1" fill="none" stroke="#27272a" stroke-width="7.5" stroke-linecap="round" stroke-linejoin="round"/>
<path d="M730.9 2566L759.6 2564.5M760.9 2565.4C760.8 2568.4 760.1 2571.5 758.8 2574.2C757.9 2576.3 757.3 2579.3 755.1 2579.9C752.4 2580.5 750.5 2576.7 748.9 2574.4C746.9 2571.6 745.7 2568.2 745.5 2564.8M745.7 2565.8C747.4 2569.4 746.9 2574.5 744.5 2577.7C743 2579.7 740.7 2582.1 738.3 2581.8C736.1 2581.6 734.5 2579.3 733.3 2577.6C730.7 2574 730.1 2568.6 731.8 2564.5M758.1 2596.1L730.1 2597.3L731 2611.7M763.5 2634.1C763.1 2631 761.2 2627.9 758.6 2626.1C755.8 2624.2 751.7 2624.3 748.3 2624.7C744 2625.2 739.7 2627.2 736.7 2630.2C734.8 2632.1 732.1 2634.3 732.2 2637C732.4 2639.8 735.5 2642 738.1 2643.2C741.5 2644.8 745.6 2643.3 749.3 2642.8C753.3 2642.1 758.8 2642.8 761.2 2639.4C762.4 2637.6 763.1 2635.3 762.9 2633.1M756.2 2675.1C758.4 2674.8 760.7 2672.8 761.2 2670.7C762 2667.9 758.6 2665.3 756.6 2663.3C753.8 2660.5 750 2658 746 2657.9C742.4 2657.9 738.7 2659.6 736.1 2662.1C734.6 2663.6 733.1 2665.5 732.6 2667.6C732 2669.8 732.2 2672.6 733.5 2674.4C735.5 2677.1 740.3 2678.1 743.2 2676.5M744.3 2667.5L744 2676.1" fill="none" stroke="#27272a" stroke-width="8.5" stroke-linecap="round" stroke-linejoin="round"/>
<path d="M734.5 2703.2L763.1 2705.5M763.8 2706.6C765.4 2710.2 764.5 2715.3 761.9 2718.2C760.6 2719.7 758.8 2721.2 756.8 2721.4C754 2721.7 751.2 2719.1 749.5 2716.8C747.3 2713.8 746.7 2709.3 747.9 2705.8M764.9 2746.4C764.7 2743.8 763.5 2741.1 761.7 2739.3C758.6 2736.2 753.1 2736.9 748.8 2737.3C745 2737.7 740.9 2738.2 738 2740.6C736.2 2742 733.8 2743.8 733.7 2746.2C733.6 2748.7 736.4 2750.5 738.2 2752.2C741.3 2755 745.3 2757.3 749.4 2757.6C753.6 2757.9 758.6 2756.7 761.5 2753.5C762.8 2752.1 763.8 2750.2 764.3 2748.3M760.1 2788.7C762.9 2787.8 765.4 2784.9 765.9 2781.9C766.2 2780 765.7 2777.9 764.7 2776.2C763.5 2774.1 761.1 2771.9 758.5 2771.9C755.2 2772 754.9 2777.6 752.6 2780C750.4 2782.2 748.1 2784.4 745.3 2785.7C743.2 2786.6 740.8 2788 738.5 2787.4C735.6 2786.6 733.7 2782.8 733.5 2779.7C733.4 2776.6 735.2 2773 737.9 2771.3M759.3 2802L762.1 2822.6M761.1 2811.7L733 2812.2M760.2 2853.5C761.8 2852.2 763 2850.2 763.5 2848.2C764 2845.9 763.8 2843 762.3 2841.2C760.9 2839.4 758.2 2838.2 755.9 2838.6C753.1 2839.1 752.5 2843.2 750.6 2845.4C748.8 2847.5 747.3 2850 744.9 2851.3C743 2852.3 740.8 2853.3 738.7 2853C735.8 2852.6 732.9 2850.1 731.9 2847.3C730.7 2843.4 733.6 2837.7 737.4 2836.4" fill="none" stroke="#27272a" stroke-width="8.5" stroke-linecap="round" stroke-linejoin="round"/>
<path d="M962.1 2382.5L960.5 2398.7M961.8 2390L924.8 2387.3M960.8 2406.9C952.8 2406.5 944.8 2406.4 936.9 2406.7C934.4 2406.8 931.3 2405.5 929.3 2407C927.6 2408.4 926.5 2411 926.8 2413.2C927.1 2415.3 928.8 2417 930.3 2418.3C932 2419.8 934.3 2420.3 936.3 2421C943.5 2423.5 951.8 2423.5 959 2421.2M960.6 2442.9L959.2 2428.9L928.9 2430.2L930.1 2444.8M944.2 2429.1L945.2 2440.4M954 2465.8C956.5 2465.8 959.2 2463.2 959.5 2460.7C959.7 2458.4 957.3 2456.3 955.4 2454.9C953.5 2453.5 951.1 2452.4 948.9 2452.8C946.2 2453.2 944.6 2456.2 942.8 2458.3C941.2 2460.2 941 2463.4 938.8 2464.7C936.3 2466 932.8 2465.7 930.4 2464.2C928.9 2463.3 927.6 2461.9 927 2460.3C925.7 2456.9 927.8 2451.8 931.1 2450.4M930 2473.2L962.4 2474.4M963.9 2476.1C963.3 2478.9 961.9 2481.7 960 2483.8C956.7 2487.6 951.2 2489.7 946.2 2489.7C940.4 2489.8 933.5 2487.4 930.5 2482.4C928.9 2479.8 928.2 2476.5 928.4 2473.4M928.7 2498.6L960.9 2505.9L928.1 2517.4M940.9 2501.9L941.3 2513.9M960.2 2526.8L942.4 2532.1L961.1 2542M943 2533.3L925.4 2531.2" fill="none" stroke="#27272a" stroke-width="5.5" stroke-linecap="round" stroke-linejoin="round"/>
<path d="M955.3 2579.9C958 2579.3 960.4 2576.4 960.6 2573.7C960.7 2571.7 959.6 2569.5 958.2 2568C956.9 2566.5 955 2565.2 953 2565.1C950.1 2565 948.5 2568.7 946.4 2570.8C943.9 2573.3 942.9 2577.8 939.5 2578.9C937.6 2579.5 935.5 2579.6 933.6 2578.9C931 2578 928.4 2575.4 927.9 2572.7C927.5 2569.7 929.2 2566.1 931.8 2564.7M963.2 2587.5L928.2 2590.4L929.5 2606.3M927.6 2610.6L960.4 2614.1M958.4 2639.8C962.1 2640.7 967.4 2636 966.9 2632.2C966.5 2629.7 963.7 2628.1 961.7 2626.5C957.8 2623.3 952.7 2620.8 947.6 2620.8C942.7 2620.8 937.7 2622.9 933.9 2626.1C931.5 2628.1 928.4 2630.3 928.2 2633.4C928.1 2636.6 930.5 2640.3 933.5 2641.4M962.1 2665L962.8 2649.7L928.4 2648.9L928.1 2665.5M945.7 2649L945.2 2661.6" fill="none" stroke="#27272a" stroke-width="5.5" stroke-linecap="round" stroke-linejoin="round"/>
<path d="M960.2 2694.9C959.1 2692.6 957.4 2690.5 955.4 2689C952.3 2686.7 948.1 2686.1 944.2 2685.9C939.1 2685.8 932.4 2686 929.5 2690.2C928.5 2691.7 927.2 2693.5 927.6 2695.2C928 2697.3 930.6 2698.1 932.4 2699C935.9 2700.9 940.1 2701 944 2701.1C948.4 2701.2 954.1 2702.5 957.1 2699.4C958.5 2697.9 959.6 2696 959.9 2694M964.5 2721.4L964.2 2709.1L927.4 2711.8M947.2 2710.9L948.5 2719.8" fill="none" stroke="#27272a" stroke-width="5.5" stroke-linecap="round" stroke-linejoin="round"/>
<path d="M961.6 2742.1L930.2 2744L931 2754.2M926.9 2763.1L958.8 2762.5M963.5 2782.8L965.8 2772.4L929.9 2770.6M947.6 2770.5L947.3 2779.6M960.5 2802.2L960.7 2791.4L926.5 2790.4L926.8 2801.4M944.5 2791.4L945.8 2800" fill="none" stroke="#27272a" stroke-width="5.5" stroke-linecap="round" stroke-linejoin="round"/>
<path d="M958.4 2840.1C960.4 2839.9 962.4 2838.3 963 2836.4C963.9 2833.8 961.3 2830.3 958.7 2829.2C957 2828.5 955 2828.8 953.3 2829.3C951 2830 949.5 2832.2 947.7 2833.7C945.3 2835.6 943.6 2838.2 940.9 2839.6C939 2840.6 936.7 2842.2 934.6 2841.5C932.6 2840.8 931.2 2838.2 930.9 2836C930.6 2833.4 932.1 2830.1 934.5 2828.8M966.9 2849.3L965.6 2866.5M965.4 2858.1L930.4 2858.8M959 2883.8C958.5 2881.5 957.3 2879.2 955.6 2877.5C952.6 2874.5 947.4 2874.4 943.1 2874.4C938.9 2874.5 933.5 2874.6 930.8 2877.9C929.4 2879.5 928.3 2881.7 928.3 2883.8C928.3 2886.2 929.9 2888.6 931.7 2890.3C934.8 2893.1 940 2891.6 944.2 2891.2C948.4 2890.8 953.5 2891 956.5 2888.1C958 2886.6 959.2 2884.7 959.8 2882.6M927.5 2900.5L960.3 2901.5M960.8 2900C962.2 2902.8 961.9 2906.9 960.1 2909.5C958.4 2911.9 955.2 2913.8 952.3 2913.5C949.8 2913.3 947.6 2911.3 946 2909.3C944 2906.9 942.9 2903.4 943.2 2900.2M943.3 2902.9L928.6 2914.7M962.1 2924.4L946.4 2931.7L963.1 2938.8M946.3 2931L930 2931.3" fill="none" stroke="#27272a" stroke-width="5.5" stroke-linecap="round" stroke-linejoin="round"/>
<path d="M897.4 2427C900.9 2425.8 903.9 2422 904.2 2418.4C904.5 2415.5 902.8 2412.5 901 2410.2C898.6 2407.1 894.7 2404.7 890.8 2404.2C887.1 2403.8 882.8 2404.8 879.9 2407.2C877 2409.5 874.7 2413.2 874.7 2416.8C874.8 2419.8 876.3 2422.9 878.5 2424.9M870.9 2434.2L904.5 2434.8M872.7 2455.8L904.9 2455M888.2 2434.8L889.4 2453.5M871.3 2465.8L905.6 2474.3L872.8 2488.3M882.9 2468.2L885.2 2485.2M903.8 2497.4L873.8 2497.2L874.3 2513.1M903.7 2521.9L873.6 2524.5L874.2 2539.1M907.7 2565.2L907.7 2548.9L875.1 2548.3L875.3 2565.3M891.5 2547.2L893.4 2561.9M874.3 2574.7L905.1 2575.2L875.9 2596.4L905 2595M903.7 2624.5C905.9 2623.1 907.6 2620.4 907.8 2617.8C908 2614.9 905.9 2612 903.9 2609.9C901 2606.9 896.2 2605.8 892 2605.5C887.9 2605.3 883.1 2605.8 879.8 2608.5C876.8 2610.9 873.6 2615.1 874.6 2618.9C875.2 2621.1 877.1 2622.9 879 2624.3C881.7 2626.3 885.4 2627.2 888.8 2626.7M890.5 2615.6L888.4 2626.5M903.8 2651.7L903.2 2633.8L873.1 2636.8L875.4 2655.7M888.1 2637.2L890.5 2649.6M903.7 2663.7L883.5 2664.7M874.1 2663.5L874.4 2664" fill="none" stroke="#27272a" stroke-width="5.5" stroke-linecap="round" stroke-linejoin="round"/>
<path d="M1814.9 2376.7C1807.9 2376.2 1800.7 2376.8 1794 2378.5C1790.5 2379.4 1785.7 2379 1783.8 2382.1C1780.8 2386.6 1789.3 2391.6 1793.4 2395.2C1796.4 2397.9 1799.9 2400.1 1803.5 2401.6M1805.6 2400.1C1800.4 2399.3 1794.9 2400 1790.1 2402C1786.3 2403.5 1780.3 2404.7 1779.9 2408.8C1779.4 2413.5 1787.5 2414.2 1791.3 2416.9C1796.5 2420.5 1801.6 2424 1806.8 2427.6M1793.5 2426.6L1777.4 2418M1786.5 2420.8C1789.1 2423.5 1791 2427.1 1791.7 2430.8C1792.3 2434.1 1791.9 2437.8 1790.7 2441C1789.6 2443.9 1787.8 2446.7 1785.5 2448.8M1785.5 2446.7C1784 2442.7 1776.8 2440.4 1773.2 2442.9C1771.8 2443.9 1770.8 2445.5 1770.1 2447C1768.3 2450.5 1768.1 2455.1 1769.5 2458.8M1793.3 2450.6L1795 2451.5M1793.8 2480.3C1794.1 2471.4 1778.3 2462.1 1770.6 2466.7C1769.7 2467.2 1768.8 2467.8 1768.1 2468.6C1765.8 2471.2 1765.7 2476.3 1767.8 2479M1786.5 2461.2L1780.8 2481M1768.9 2488.1C1767.8 2492.7 1767.6 2497.6 1768.2 2502.3C1768.7 2506.1 1767.7 2512.9 1771.5 2513.3C1775.2 2513.8 1776.7 2507.3 1777.4 2503.5C1778.2 2499.1 1775.8 2494.6 1774.1 2490.5C1772.9 2487.3 1772.7 2481.5 1769.3 2481.5C1766.6 2481.4 1765 2484.7 1763.4 2486.7C1760.3 2490.6 1758.1 2495.6 1758 2500.6C1757.9 2504.9 1759.2 2509.5 1761.6 2513.2" fill="none" stroke="#27272a" stroke-width="6.2" stroke-linecap="round" stroke-linejoin="round"/>
<path d="M1770.7 2538.7L1753.4 2534.3M1762.3 2540.2C1764.2 2541.3 1765.9 2543 1767.1 2544.9C1768.9 2547.6 1769.9 2551.2 1769.3 2554.4C1768.7 2557.5 1766.7 2560.6 1764.1 2562.4M1756 2559.4C1755.8 2564.8 1756 2570.2 1756.3 2575.5C1756.6 2579.2 1753.8 2586.9 1757.5 2586.6C1759.9 2586.4 1761.5 2583.5 1762.6 2581.3C1764.7 2577.3 1762.8 2572 1761.3 2567.7C1760.3 2564.8 1759.9 2560.3 1756.9 2559.6C1754.2 2558.9 1751.5 2561.5 1749.6 2563.5C1746.8 2566.2 1746.3 2570.7 1745.8 2574.5C1744.9 2579.9 1745.5 2585.6 1747.3 2590.7M1767.8 2634.3C1770.8 2632.3 1772.9 2628.7 1773.2 2625.2C1773.5 2622.3 1772.4 2619.4 1771.1 2616.8C1768.7 2612.1 1763.1 2609.9 1758.9 2606.7C1751.4 2601.2 1742.1 2598.3 1735.2 2592.1C1733.2 2590.2 1729.7 2588.9 1729.4 2586.1C1729 2582.9 1732.3 2578.9 1735.6 2578.6M1761.4 2597.4L1755.8 2621.1M1742.2 2615.6C1742.7 2621.6 1747 2627.8 1752.4 2630.5C1756.4 2632.5 1761.5 2630.4 1765.8 2631.6C1767.1 2632 1768.4 2633.4 1769.7 2633C1771.7 2632.2 1768 2628.9 1766.8 2627.1C1761.8 2619.8 1749 2613.6 1741.6 2618.6C1739.6 2620 1737.8 2621.8 1736.6 2623.9C1734.5 2627.6 1734.1 2632.5 1735.5 2636.4M1738.2 2633.9C1738.1 2638.8 1738.3 2643.7 1738.9 2648.6C1739.2 2651.9 1737.1 2658.9 1740.4 2658.6C1742.9 2658.3 1744.1 2655 1744.9 2652.7C1746 2650 1745.7 2646.9 1745.2 2644.1C1744.5 2640 1744 2633.4 1739.9 2632.9C1736.4 2632.4 1733.2 2636.4 1731.6 2639.6C1730.5 2641.9 1730.8 2644.7 1730.6 2647.4C1730 2653.6 1730.2 2660 1731 2666.2M1738.2 2697.3C1740.8 2693.8 1742.5 2689.7 1743.3 2685.5C1743.8 2682.2 1744.3 2678.6 1743.2 2675.4C1742 2672.1 1740.2 2667.9 1736.9 2667.3C1734 2666.8 1730.9 2668.7 1729 2670.9C1726.5 2673.6 1727.3 2678 1726.9 2681.7C1726.3 2687.4 1726.3 2693.3 1727.1 2699M1748.2 2718.8C1746.7 2709.9 1732 2702.5 1723.9 2706.6C1721.5 2707.9 1718.5 2709.5 1717.6 2712.1C1717 2714 1717.2 2716.3 1718.1 2718.1M1736.1 2704.7L1733.3 2724.6M1732.1 2725C1727.8 2726.2 1723.2 2726.4 1718.9 2725.5C1717.4 2725.2 1715.9 2723.9 1714.5 2724.3C1711.5 2725 1712.3 2733.1 1715.4 2733.3M1740 2728.9L1740 2732.5M1726.1 2754.9C1725.2 2752.5 1724.3 2750.1 1723.4 2747.7C1722.2 2744.7 1722.6 2739.6 1719.5 2738.8C1716.8 2738.1 1714 2740.7 1712.1 2742.7C1709.7 2745.3 1709 2749.3 1708.7 2752.9C1708.3 2756.7 1708.7 2761 1710.7 2764.2C1712.2 2766.7 1714.1 2770.4 1717 2770.2C1720 2770 1720.1 2765 1722.4 2763C1723.6 2762 1724.8 2760.8 1726.3 2760.3C1729.5 2759.3 1721.4 2765.4 1720.7 2768.7C1720.1 2771.2 1720.2 2773.9 1721 2776.3M1726.4 2781.5L1707.9 2770.8M1719.2 2779.1C1722.1 2781.4 1724 2785.6 1723.7 2789.3C1723.5 2791.5 1723.2 2794.2 1721.4 2795.4C1720 2796.5 1717.9 2796.5 1716.2 2796.3C1713.3 2795.9 1711.8 2790.8 1709 2791.5C1707.1 2792 1705.9 2794.1 1704.9 2795.8C1703.1 2798.7 1702.6 2802.6 1703.5 2805.9M1708.9 2832.9C1710.9 2829.6 1712.1 2825.7 1712.3 2821.9C1712.4 2819.4 1713.6 2815.6 1711.4 2814.4C1709.4 2813.3 1706.8 2815.6 1704.9 2817.1C1701.5 2819.7 1704.2 2827.9 1700 2828.9C1698.7 2829.3 1697.2 2829.4 1696 2828.9C1692.4 2827.6 1696.3 2821.2 1697.1 2817.5C1697.9 2813.3 1699.2 2809.2 1700.9 2805.4" fill="none" stroke="#27272a" stroke-width="6.2" stroke-linecap="round" stroke-linejoin="round"/>
<path d="M1761.8 2372.9C1761.1 2377.2 1760.9 2381.6 1761.3 2385.9C1761.6 2389.9 1759.7 2397.6 1763.7 2397.9C1766.5 2398 1769 2395.2 1770.4 2392.8C1772.6 2389 1770.3 2383.7 1768.8 2379.6C1767.7 2376.8 1766.7 2373.5 1764.3 2371.8C1762.1 2370.3 1759.3 2369.4 1756.8 2370C1751.8 2371.1 1753.3 2379.5 1752.8 2384.6C1752.4 2389.4 1752.7 2394.3 1753.8 2398.9M1755.5 2438.9C1758.5 2435.4 1760.6 2431 1761.5 2426.5C1762.4 2422.1 1762.6 2417.1 1760.7 2413C1759.6 2410.8 1758.5 2407.9 1756.2 2407.2C1754.2 2406.5 1751.8 2407.3 1750 2408.5C1747.4 2410.3 1747.2 2414.3 1746.8 2417.4C1746.1 2423.8 1748.7 2431.2 1753.5 2435.6M1760.6 2440.3C1758.9 2435.9 1751.8 2433 1747.5 2434.9C1746.3 2435.5 1744.8 2436.1 1744.2 2437.3C1743.3 2438.8 1743.5 2441.2 1744.6 2442.6M1747.6 2471.3C1750.5 2468.2 1752.3 2463.8 1752.4 2459.6C1752.4 2457.1 1751.7 2454.7 1751 2452.4C1749.7 2448.7 1748.8 2442.3 1744.8 2442.2C1742.1 2442.1 1739.7 2444.3 1738 2446.4C1735.8 2449.2 1736 2453.4 1735.8 2457C1735.4 2462.4 1736.1 2467.8 1737.8 2472.9M1731.6 2474C1737.5 2476.4 1743.3 2478.9 1749 2481.5C1754.5 2484 1760 2486.7 1765.3 2489.4M1740.7 2478C1743.2 2481.2 1745 2484.9 1746 2488.8C1746.9 2492.3 1748.9 2496.6 1746.7 2499.4C1745.7 2500.8 1744 2501.6 1742.5 2502.3C1739.2 2503.8 1735 2501.6 1731.7 2503.1C1729.9 2503.9 1727.8 2504.7 1726.9 2506.4C1725.7 2508.6 1726 2512 1727.7 2513.9" fill="none" stroke="#27272a" stroke-width="6.2" stroke-linecap="round" stroke-linejoin="round"/>
<path d="M1735.5 2547.6C1735.6 2543.3 1728.9 2538.8 1725 2540.4C1722.7 2541.4 1721 2543.9 1720.3 2546.4C1719.6 2548.9 1720.7 2551.7 1721.4 2554.3C1722.6 2558.4 1724.8 2562.3 1727.7 2565.5M1728.6 2560.7C1725.9 2559.3 1722.1 2559.5 1719.5 2561.1C1717.6 2562.3 1716 2564.4 1715.5 2566.6C1714.8 2569.2 1715.8 2572.1 1717.2 2574.4C1719.2 2577.8 1725.8 2576.9 1727.2 2580.5C1728.6 2584 1727.3 2589 1724.4 2591.4M1718.2 2590.7C1717.4 2594.3 1717.3 2598.1 1717.7 2601.8C1718.2 2605.8 1717.7 2615.5 1721.2 2613.5C1722.6 2612.7 1723.3 2611.1 1724.1 2609.7C1726.7 2605 1726 2598.2 1723.4 2593.3C1722.2 2591.1 1721 2587.9 1718.5 2587.4C1715.7 2586.9 1713.2 2589.7 1711.3 2591.8C1709.2 2594.3 1708.5 2597.8 1708 2601C1707.1 2606.3 1708 2612.2 1710.5 2617M1708.6 2622.7C1708.6 2628.4 1709.4 2634.1 1711 2639.5C1711.7 2642.1 1710.9 2647.1 1713.5 2647C1715.5 2646.9 1716.4 2644.3 1717.4 2642.6C1720 2638.2 1720.2 2631.4 1717.2 2627.3C1715.5 2625 1713.1 2622.6 1710.3 2622.5C1707.2 2622.3 1704.5 2625.1 1702.5 2627.6C1700.8 2629.8 1699.9 2632.7 1699.4 2635.4C1698.5 2640.5 1699.8 2646.4 1702.7 2650.6M1696.4 2650.1C1702.3 2652.6 1708.1 2655.2 1713.8 2658C1719.9 2660.8 1725.8 2663.9 1731.7 2667.1M1709.7 2679.7L1705.7 2655.9L1691.8 2676.9" fill="none" stroke="#27272a" stroke-width="6.2" stroke-linecap="round" stroke-linejoin="round"/>
<path d="M1685.2 2892.2C1688.1 2889.8 1690.3 2886.1 1690.9 2882.4C1691.4 2879 1690.4 2875.5 1689.2 2872.3C1688.3 2869.6 1687.6 2866.1 1685.1 2864.8C1683.2 2863.9 1680.7 2863.8 1678.9 2864.7C1675.7 2866.2 1676.9 2871.4 1676.8 2874.9C1676.8 2880.3 1678.4 2886 1681.2 2890.6M1706.5 2899.9C1701.3 2890.5 1688.1 2884.2 1677.5 2886C1676.1 2886.3 1674.4 2886.3 1673.2 2887.2C1670.3 2889.2 1670.3 2895.7 1673.1 2897.7M1690.1 2904.4C1690.6 2899.3 1681.3 2893.7 1677 2896.4C1674.9 2897.7 1673.7 2900.2 1673.1 2902.6C1672.7 2904 1672.7 2905.4 1672.7 2906.8C1672.8 2911.4 1674.6 2916.1 1677.5 2919.5M1687.1 2920.2C1683.2 2916.8 1677.2 2915.2 1672.2 2916.1C1670.7 2916.4 1668.8 2916.2 1667.9 2917.4C1666.7 2919 1667.5 2922.4 1669.4 2923.3M1684.5 2934.9L1667.5 2929.5M1676.2 2931.7C1678.4 2932.5 1680.4 2934.1 1681.6 2936.1C1683.3 2939 1683.4 2943.2 1681.7 2946.1C1680.7 2948 1678.9 2949.5 1676.9 2950.3M1682.3 2952.9C1678.1 2951.6 1673.4 2951.3 1669 2952.3C1667.1 2952.7 1664.3 2952.4 1663.5 2954.1C1662.5 2956.1 1664.1 2959.5 1666.2 2960M1691.3 2958.3L1690.1 2959.2M1678.2 2965.9L1661.2 2959.3M1671.2 2963.5C1673.6 2966.4 1675 2970.4 1674.9 2974.1C1674.9 2976 1675.1 2978.4 1673.7 2979.8C1671.9 2981.6 1668.5 2980.7 1666.1 2979.8C1663.4 2978.9 1662.6 2973.1 1659.8 2973.9C1657.7 2974.5 1656.8 2977.1 1656.1 2979.1C1655.2 2981.9 1655.6 2985.4 1657.1 2987.9M1663.2 3019.3C1665.8 3017.5 1667.9 3014.6 1668.8 3011.5C1670.1 3007.1 1668.3 3002.1 1666.4 2997.9C1665.2 2995.5 1664.5 2992 1662 2991.2C1659.4 2990.4 1656.3 2992.4 1654.5 2994.4C1652.2 2996.8 1652.3 3000.7 1652.4 3003.9C1652.5 3009.6 1655.2 3015.6 1659.5 3019.3M1668.1 3019.8C1660 3021.8 1650.4 3020.4 1643.3 3016C1640.4 3014.3 1636.9 3012.6 1635.6 3009.5C1633.8 3005.5 1635.8 3000.2 1638.3 2996.6C1639.8 2994.3 1641.9 2992.4 1644.3 2991.1" fill="none" stroke="#27272a" stroke-width="6.2" stroke-linecap="round" stroke-linejoin="round"/>
<path d="M1702.8 2719.7C1698 2711.5 1681.5 2708.9 1674.4 2715.3C1672.5 2717 1670.4 2719 1669.9 2721.5C1669.5 2723.8 1670 2726.5 1671.4 2728.5M1689.7 2707.3L1687.5 2732.2M1684.8 2736.6L1669.1 2728.3M1680.7 2730.7C1681.2 2734.3 1681.6 2738 1681.9 2741.6C1682.2 2745.2 1683.7 2748.9 1682.6 2752.3C1681.8 2754.9 1680 2757.3 1677.9 2759M1678.3 2761C1674.2 2760.7 1670.1 2760 1666.2 2758.8C1665.6 2758.6 1665.1 2758.3 1664.5 2758.2C1661.2 2757.8 1660.4 2768.1 1663.7 2768.2M1686.1 2765.1L1686.7 2765.8M1675 2776.4C1670.3 2775.7 1665.6 2775.1 1660.8 2774.7C1656.1 2774.2 1651.4 2773.8 1646.7 2773.5M1670 2777.3C1672.1 2780.6 1673.1 2784.7 1673 2788.6C1672.8 2791.5 1672.1 2794.5 1670.7 2797C1669.5 2799.3 1668.1 2802.4 1665.5 2803C1663.3 2803.5 1660.8 2802.3 1658.9 2801C1654.4 2797.7 1655.6 2789.1 1658.4 2784.4C1659.5 2782.4 1661.1 2780.7 1662.9 2779.4" fill="none" stroke="#27272a" stroke-width="6.2" stroke-linecap="round" stroke-linejoin="round"/>
<path d="M2302.7 2367L2297.9 2393.1M2300.3 2381L2250 2368.9M2282.1 2434.9C2286.5 2435.6 2292.1 2431.3 2292.7 2426.9C2293.3 2423 2289.2 2419.7 2286.6 2416.7C2282 2411.5 2275.5 2407.5 2268.7 2406.4C2263.8 2405.6 2258.4 2405.8 2253.9 2407.8C2249.3 2409.8 2243.4 2412.9 2242.8 2417.8C2242.2 2422.4 2245.5 2428 2249.8 2429.7M2239.1 2442.4L2288.2 2456.2M2288.3 2457C2288.6 2461.8 2286.2 2467.3 2282.5 2470.3C2278.9 2473.2 2273.5 2474.9 2269.2 2473.5C2265.4 2472.2 2262.6 2468.3 2260.9 2464.6C2258.9 2460.1 2258.6 2454.6 2260.2 2449.9M2260 2454.4L2233.4 2466.4M2279.1 2496.4L2226.8 2493.2L2260.6 2511.3L2221.9 2514.7L2274 2533M2212.8 2540.8L2262.9 2549.9M2263.3 2550C2264.8 2554.9 2263.6 2561.1 2260.3 2565.1C2257.5 2568.5 2252.8 2571.3 2248.4 2571C2243.8 2570.6 2239.7 2566.6 2237.3 2562.6C2234.4 2557.7 2233.8 2550.8 2236 2545.6" fill="none" stroke="#27272a" stroke-width="13.5" stroke-linecap="round" stroke-linejoin="round"/>
<path d="M2202.8 2600.7L2247.7 2609.2M2249.2 2611.4C2250.5 2615.7 2248.9 2621.4 2245.6 2624.4C2242.9 2626.8 2238.6 2628.9 2235.2 2627.5C2232.2 2626.2 2231.3 2622.3 2229.9 2619.4C2227.8 2615.2 2226.4 2610.5 2225.9 2605.9M2227.1 2608.3C2226.1 2613.3 2223.2 2618.1 2219.4 2621.5C2217.2 2623.4 2214.8 2625.8 2211.8 2625.9C2207.5 2626.1 2204 2621.3 2202 2617.5C2199.5 2612.6 2199.5 2605.9 2202.1 2601.1M2245.8 2651.4L2193.1 2641.1L2190.5 2660.7M2230.7 2699C2230.6 2695.6 2229.4 2692.1 2227.4 2689.3C2223.8 2684.4 2216.6 2683.4 2210.6 2682.3C2204.6 2681.2 2197.6 2680 2192.3 2683C2188.9 2685 2184.8 2687.7 2184.3 2691.6C2183.9 2694.6 2185.6 2697.6 2187.3 2700.1C2191 2705.5 2199.3 2705.8 2205.7 2707.1C2211.1 2708.1 2217.1 2710 2222.1 2707.8C2225.8 2706.2 2229 2703.3 2231 2699.8M2210.6 2752.3C2214.9 2753.1 2220.6 2748.9 2221 2744.6C2221.4 2740.8 2217.3 2738 2214.8 2735.2C2210.5 2730.2 2205.2 2725.3 2198.8 2723.8C2192.6 2722.3 2185.5 2723.2 2180 2726.3C2176.7 2728.2 2172.4 2730.3 2171.7 2734C2171.1 2737.2 2173.1 2740.7 2175.3 2743.2C2178.5 2746.8 2184.4 2748.7 2189.1 2747.6M2192.3 2736.7L2189.9 2747.2" fill="none" stroke="#27272a" stroke-width="13.5" stroke-linecap="round" stroke-linejoin="round"/>
<path d="M2161.2 2791.9L2205.9 2800.8M2205 2799.4C2206.1 2805 2204.3 2811.7 2200.5 2815.9C2198 2818.7 2194.6 2821.6 2190.9 2821.8C2186.1 2822 2181.5 2817.6 2179.3 2813.4C2176.2 2807.6 2177.8 2798.3 2182.7 2793.9M2197.1 2855.8C2196.7 2851.8 2194.9 2847.8 2192.3 2844.8C2188.1 2840 2180.6 2839.2 2174.3 2838.2C2167.7 2837.2 2159.8 2835.6 2154.2 2839.3C2151.2 2841.2 2147.9 2843.7 2147.1 2847.1C2146 2851.8 2150.3 2856.5 2153.6 2859.9C2157.6 2863.8 2163.5 2865.6 2168.9 2866.8C2176.2 2868.3 2185.2 2869.4 2191.3 2865.1C2193.9 2863.2 2196.1 2860.8 2197.6 2858M2174 2910.4C2178.3 2911.1 2183.7 2908 2185.4 2904C2186.8 2900.6 2185.8 2896.3 2183.9 2893.2C2181.9 2890 2178.3 2887.2 2174.6 2887C2169.7 2886.7 2167.1 2893.5 2163.2 2896.4C2160.4 2898.5 2157.8 2901 2154.7 2902.4C2151.7 2903.7 2148.2 2905.3 2145 2904.5C2139.8 2903.1 2136.9 2895.3 2137.9 2890C2138.7 2885.7 2142.2 2881.6 2146.2 2880M2185 2933.2L2180.3 2960.6M2183.2 2948L2132.4 2933.6M2157 2995.8C2160.2 2995.6 2163.6 2993.5 2165 2990.6C2166.7 2987.5 2165.9 2983.2 2164.2 2980.2C2162.2 2976.8 2158 2974.2 2154.1 2974.3C2149.6 2974.4 2146.8 2979.5 2143.6 2982.7C2140.5 2985.7 2139.4 2991.3 2135.3 2992.8C2132.4 2993.8 2128.8 2993.7 2126 2992.5C2122.1 2990.8 2118.5 2986.7 2118.2 2982.5C2117.9 2977.7 2121.7 2972.1 2126.2 2970.7" fill="none" stroke="#27272a" stroke-width="13.5" stroke-linecap="round" stroke-linejoin="round"/>
<path d="M2208.7 2359.4C2209.6 2355.5 2208.4 2350.7 2205.8 2347.7C2202.9 2344.2 2197.5 2343.3 2193 2343.2C2188.6 2343.1 2183.9 2344.2 2180.4 2346.9C2177.7 2349 2175.1 2351.9 2174.4 2355.2C2173.6 2358.9 2174.8 2363.2 2177 2366.3C2179.3 2369.6 2183.4 2371.9 2187.3 2372.7C2192.6 2373.8 2199 2372.3 2203 2368.6C2205.9 2365.9 2207.9 2361.9 2208.4 2357.9M2168.6 2380.3L2201.2 2385.3L2162.4 2407.5L2194.7 2415" fill="none" stroke="#27272a" stroke-width="9" stroke-linecap="round" stroke-linejoin="round"/>
<path d="M2154.5 2446L2189 2449.4M2150.4 2469.8L2185.1 2474.1M2171.8 2448.1L2166.7 2470M2178.9 2505.9L2181.6 2484.8L2148.4 2481.8L2147.3 2502.2M2166.1 2484.6L2164 2500.7M2143.4 2510L2174.9 2518.9M2139.7 2522.1L2170.7 2531.7L2134 2547.5L2166 2553.6M2162.1 2585.7L2166.4 2565.8L2133.3 2560L2131.3 2581.8M2150.7 2562.5L2147.6 2579.4M2126 2590.3L2158.8 2601.6L2135.1 2607.3L2151.8 2627.2L2118.8 2620.9M2116.8 2633.6L2147.5 2651.5L2112.9 2663M2129.3 2639.5L2126.1 2659.3M2113.5 2671.5L2142.5 2679.8L2107.1 2696.2L2137.4 2705.8M2103.5 2709.3L2134.9 2715.2L2098.7 2731.9L2129.9 2738.6" fill="none" stroke="#27272a" stroke-width="9" stroke-linecap="round" stroke-linejoin="round"/>
<path d="M1943 3058.4C1943.9 3064.1 1944.7 3069.7 1945.6 3075.4C1946.7 3082.1 1947.8 3088.9 1948.9 3095.6M1944 3060.7C1948.9 3056.9 1955.7 3054.8 1961.9 3055.2C1967.1 3055.5 1975.9 3055.6 1976.6 3060.7C1977.1 3064.6 1972.9 3067.9 1970.1 3070.5C1965.7 3074.5 1954.2 3071.2 1953.8 3077C1953.2 3083.5 1967.6 3074.8 1973.3 3078C1975.8 3079.4 1979 3080.8 1979.8 3083.5C1981.3 3088.5 1970.2 3087.5 1965.2 3088.4C1959.8 3089.4 1954.3 3089.6 1948.9 3089.1M1983.1 3083.5C1988.1 3084.7 1994.4 3082.6 1997.8 3078.7C1999.3 3076.8 2001.9 3074.4 2001 3072.1C2000 3069.6 1995.5 3069.7 1992.9 3070.5C1989.5 3071.5 1986.7 3075.2 1986.3 3078.7C1986.1 3081.6 1987.5 3084.8 1989.6 3086.8C1992.4 3089.4 1997.2 3089.1 2001 3088.4C2005.3 3087.7 2009.6 3085.3 2012.4 3081.9M2014 3055.8C2013.2 3061.2 2012.7 3066.7 2012.4 3072.1C2012.2 3077 2008.6 3083.8 2012.4 3086.8C2014.6 3088.5 2017.9 3089.2 2020.6 3088.4M2002.6 3068.9L2030.3 3065.6M2028.7 3057.5C2029.5 3062.3 2030 3067.2 2030.3 3072.1C2030.7 3078.1 2030.7 3084.1 2030.3 3090.1M2030.3 3081.9C2031.7 3077.9 2035.9 3074.4 2040.1 3073.8C2042.8 3073.4 2046.2 3073.5 2048.3 3075.4C2050.7 3077.6 2048.1 3082.4 2049.9 3085.2C2051.4 3087.4 2053.9 3089.1 2056.4 3090.1C2060.5 3091.6 2065.3 3090.4 2069.4 3089.1C2073 3087.9 2076.4 3086 2079.2 3083.5M2102 3068.9C2100.7 3065.7 2105.1 3060.1 2108.5 3060.7C2110.8 3061.1 2112.2 3063.7 2113.4 3065.6C2116.9 3071.2 2115.3 3081 2110.2 3085.2M2111.8 3073.8C2112.4 3067.6 2118.7 3061.3 2124.8 3060.7C2127.6 3060.5 2130.9 3060.6 2133 3062.4C2136.8 3065.6 2130.6 3072.1 2129.7 3077C2129.1 3080.3 2128.6 3083.5 2128.1 3086.8M2129.7 3075.4C2130.7 3069.3 2136.7 3063.3 2142.8 3062.4C2146 3061.8 2150.1 3061.8 2152.5 3064C2156.2 3067.3 2150.6 3073.7 2150.9 3078.7C2151.1 3081.9 2149.6 3086.8 2152.5 3088.4C2154.9 3089.8 2159 3089 2160.7 3086.8M2170.4 3073.8C2167 3073.7 2163 3076.9 2162.3 3080.3C2161.7 3083.1 2163.1 3086.9 2165.6 3088.4C2168.4 3090.2 2172.6 3088.7 2175.3 3086.8C2177.9 3085 2180.6 3081.8 2180.2 3078.7C2179.8 3075.6 2172.6 3075 2173.7 3072.1C2174.9 3069 2180.2 3073.2 2183.5 3073.8C2186.2 3074.3 2188.9 3074.8 2191.6 3075.4M2201.4 3073.8C2198 3073.3 2193.5 3076.8 2193.3 3080.3C2193.1 3082.7 2194.5 3085.5 2196.5 3086.8C2199.3 3088.6 2203.6 3087.1 2206.3 3085.2C2208.9 3083.4 2211.8 3080.1 2211.2 3077C2210.6 3074.2 2204.1 3074.3 2204.7 3071.5C2205.3 3068.3 2211.2 3071.7 2214.4 3072.1C2217.2 3072.5 2219.9 3073.1 2222.6 3073.8M2222.6 3073.8C2223.1 3071.1 2226.4 3068.6 2229.1 3068.9C2231 3069 2233.2 3070.3 2234 3072.1C2234.9 3074.2 2232.1 3076.4 2232.4 3078.7C2232.6 3081.1 2233.7 3083.6 2235.6 3085.2C2237.8 3086.9 2241 3087.2 2243.8 3086.8C2246.2 3086.4 2248.5 3085.2 2250.3 3083.5M2250.3 3083.5C2255.1 3082.7 2259.8 3080.4 2263.3 3077C2265.3 3075.1 2269.3 3073 2268.2 3070.5C2267.3 3068.4 2264 3067.9 2261.7 3068.2C2258.5 3068.7 2255.9 3072.2 2255.2 3075.4C2254.5 3078.1 2255.1 3081.4 2256.8 3083.5C2258.9 3086.2 2263.2 3086.1 2266.6 3086.8C2273.5 3088.2 2281.1 3087.6 2287.7 3085.2" fill="none" stroke="#27272a" stroke-width="4" stroke-linecap="round" stroke-linejoin="round"/>
</svg>
</body></html>
